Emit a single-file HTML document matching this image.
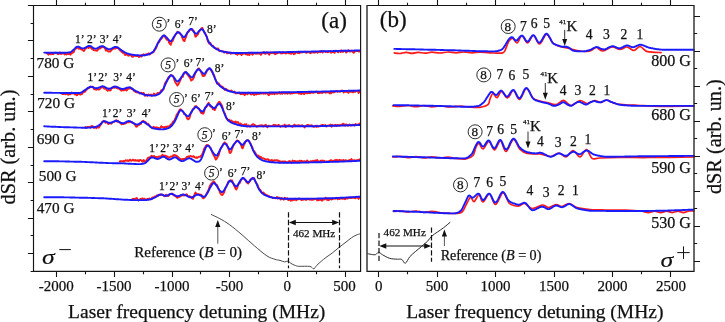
<!DOCTYPE html>
<html><head><meta charset="utf-8"><title>dSR spectra</title>
<style>
html,body{margin:0;padding:0;background:#fff;}
body{width:725px;height:322px;overflow:hidden;}
svg{display:block;font-family:"Liberation Serif","Times New Roman",serif;}
text{stroke:#111;stroke-width:0.25px;}
</style></head><body>
<svg width="725" height="322" viewBox="0 0 725 322">
<rect width="725" height="322" fill="#fff"/>
<g fill="none" stroke="#ff1a1a" stroke-width="1.85" stroke-linejoin="round" stroke-linecap="round">
<path d="M46.6,53.3 L47.2,53.2 L47.8,54.0 L48.4,54.7 L49.0,53.8 L49.6,53.6 L50.2,54.2 L50.8,54.3 L51.4,54.0 L52.0,53.5 L52.6,54.0 L53.2,54.2 L53.8,53.2 L54.4,53.3 L55.0,52.6 L55.6,52.7 L56.2,52.7 L56.8,53.4 L57.4,53.3 L58.0,54.1 L58.6,54.2 L59.2,53.6 L59.8,52.4 L60.4,53.4 L61.0,54.0 L61.6,53.9 L62.2,53.1 L62.8,53.4 L63.4,53.3 L64.0,53.6 L64.6,54.5 L65.2,53.7 L65.8,54.1 L66.4,54.5 L67.0,53.9 L67.6,54.0 L68.2,54.2 L68.8,54.1 L69.4,53.6 L70.0,54.4 L70.6,54.7 L71.2,53.0 L71.8,53.4 L72.4,52.5 L73.0,51.8 L73.6,52.4 L74.2,51.0 L74.8,49.1 L75.4,48.9 L76.0,48.6 L76.6,47.9 L77.2,47.9 L77.8,47.7 L78.4,48.3 L79.0,48.9 L79.6,48.2 L80.2,48.7 L80.8,49.0 L81.4,49.6 L82.0,49.4 L82.6,49.9 L83.2,50.5 L83.8,51.0 L84.4,50.6 L85.0,48.8 L85.6,48.4 L86.2,48.4 L86.8,46.9 L87.4,47.1 L88.0,47.4 L88.6,48.0 L89.2,47.6 L89.8,46.9 L90.4,46.9 L91.0,47.6 L91.6,48.8 L92.2,48.4 L92.8,49.0 L93.4,49.9 L94.0,50.3 L94.6,50.4 L95.2,50.2 L95.8,50.6 L96.4,50.5 L97.0,50.9 L97.6,50.3 L98.2,49.3 L98.8,49.0 L99.4,48.3 L100.0,48.5 L100.6,47.9 L101.2,47.6 L101.8,46.7 L102.4,47.2 L103.0,46.3 L103.6,46.3 L104.2,47.5 L104.8,48.0 L105.4,49.3 L106.0,50.7 L106.6,49.7 L107.2,50.0 L107.8,51.0 L108.4,51.5 L109.0,51.3 L109.6,51.3 L110.2,51.6 L110.8,51.1 L111.4,49.8 L112.0,49.7 L112.6,49.3 L113.2,48.5 L113.8,48.6 L114.4,48.1 L115.0,48.7 L115.6,48.4 L116.2,48.1 L116.8,47.8 L117.4,48.0 L118.0,47.5 L118.6,48.4 L119.2,49.6 L119.8,49.3 L120.4,50.8 L121.0,50.5 L121.6,51.9 L122.2,51.9 L122.8,52.9 L123.4,52.9 L124.0,52.6 L124.6,54.4 L125.2,55.1 L125.8,54.5 L126.4,54.5 L127.0,54.7 L127.6,54.7 L128.2,55.7 L128.8,55.2 L129.4,55.3 L130.0,55.0 L130.6,55.1 L131.2,55.2 L131.8,56.5 L132.4,56.3 L133.0,56.7 L133.6,56.2 L134.2,55.8 L134.8,55.9 L135.4,55.9 L136.0,56.2 L136.6,56.1 L137.2,56.0 L137.8,55.5 L138.4,56.0 L139.0,57.1 L139.6,55.9 L140.2,55.5 L140.8,56.3 L141.4,56.6 L142.0,55.1 L142.6,55.3 L143.2,54.8 L143.8,54.3 L144.4,55.3 L145.0,55.0 L145.6,54.7 L146.2,54.2 L146.8,54.6 L147.4,54.1 L148.0,54.0 L148.6,53.3 L149.2,53.4 L149.8,54.5 L150.4,53.6 L151.0,53.5 L151.6,53.1 L152.2,52.5 L152.8,52.2 L153.4,52.4 L154.0,51.3 L154.6,50.3 L155.2,49.3 L155.8,48.7 L156.4,47.3 L157.0,45.6 L157.6,43.6 L158.2,42.3 L158.8,42.5 L159.4,41.7 L160.0,40.2 L160.6,39.5 L161.2,39.0 L161.8,38.3 L162.4,37.3 L163.0,36.2 L163.6,36.4 L164.2,35.3 L164.8,36.6 L165.4,37.4 L166.0,38.4 L166.6,39.7 L167.2,39.9 L167.8,39.3 L168.4,40.3 L169.0,42.7 L169.6,43.1 L170.2,44.3 L170.8,44.8 L171.4,42.7 L172.0,41.3 L172.6,41.1 L173.2,39.6 L173.8,37.9 L174.4,36.8 L175.0,35.4 L175.6,34.1 L176.2,33.8 L176.8,32.6 L177.4,31.7 L178.0,32.5 L178.6,32.6 L179.2,33.0 L179.8,33.1 L180.4,33.9 L181.0,34.5 L181.6,35.9 L182.2,37.8 L182.8,38.8 L183.4,40.3 L184.0,41.0 L184.6,41.1 L185.2,38.5 L185.8,37.7 L186.4,35.7 L187.0,33.9 L187.6,32.2 L188.2,31.9 L188.8,31.7 L189.4,30.5 L190.0,29.7 L190.6,29.2 L191.2,29.7 L191.8,29.4 L192.4,29.1 L193.0,30.6 L193.6,30.8 L194.2,31.4 L194.8,34.4 L195.4,36.7 L196.0,36.6 L196.6,35.5 L197.2,34.9 L197.8,34.6 L198.4,32.9 L199.0,31.8 L199.6,30.8 L200.2,29.9 L200.8,29.4 L201.4,28.5 L202.0,27.9 L202.6,28.2 L203.2,30.1 L203.8,31.3 L204.4,32.9 L205.0,32.9 L205.6,34.4 L206.2,35.6 L206.8,36.5 L207.4,39.8 L208.0,41.7 L208.6,42.3 L209.2,43.6 L209.8,43.8 L210.4,42.9 L211.0,44.7 L211.6,45.4 L212.2,45.7 L212.8,45.6 L213.4,46.4 L214.0,47.1 L214.6,48.2 L215.2,48.1 L215.8,48.4 L216.4,49.3 L217.0,48.6 L217.6,48.5 L218.2,48.5 L218.8,50.6 L219.4,51.0 L220.0,51.1 L220.6,51.1 L221.2,51.0 L221.8,51.2 L222.4,51.1 L223.0,51.3 L223.6,51.8 L224.2,52.7 L224.8,52.4 L225.4,52.0 L226.0,51.7 L226.6,52.1 L227.2,53.5 L227.8,53.2 L228.4,52.9 L229.0,52.6 L229.6,52.4 L230.2,53.2 L230.8,53.8 L231.4,53.3 L232.0,53.3 L232.6,53.4 L233.2,53.4 L233.8,52.7 L234.4,53.2 L235.0,53.3 L235.6,54.0 L236.2,53.5 L236.8,54.2 L237.4,54.8 L238.0,53.8 L238.6,53.5 L239.2,53.9 L239.8,53.8 L240.4,53.3 L241.0,54.3 L241.6,55.1 L242.2,54.0 L242.8,53.5 L243.4,53.2 L244.0,53.7 L244.6,52.9 L245.2,53.1 L245.8,54.3 L246.4,53.6 L247.0,54.5 L247.6,54.9 L248.2,54.2 L248.8,54.4 L249.4,55.0 L250.0,53.8 L250.6,53.1 L251.2,52.8 L251.8,53.7 L252.4,54.7 L253.0,54.3 L253.6,53.1 L254.2,52.9 L254.8,53.2 L255.4,53.7 L256.0,53.5 L256.6,53.7 L257.2,53.7 L257.8,53.4 L258.4,53.5 L259.0,53.6 L259.6,53.6 L260.2,54.1 L260.8,54.8 L261.4,54.1 L262.0,53.3 L262.6,52.5 L263.2,53.1 L263.8,52.1 L264.4,52.4 L265.0,53.8 L265.6,53.9 L266.2,53.1 L266.8,52.3 L267.4,52.8 L268.0,53.0 L268.6,54.0 L269.2,54.8 L269.8,53.7 L270.4,52.7 L271.0,52.5 L271.6,53.0 L272.2,53.0 L272.8,52.5 L273.4,53.0 L274.0,52.7 L274.6,53.9 L275.2,54.2 L275.8,54.0 L276.4,53.1 L277.0,53.4 L277.6,53.1 L278.2,52.8 L278.8,52.7 L279.4,52.1 L280.0,52.2 L280.6,53.3 L281.2,53.1 L281.8,53.3 L282.4,53.4 L283.0,52.0 L283.6,52.3 L284.2,53.1 L284.8,53.2 L285.4,53.0 L286.0,53.6 L286.6,53.1 L287.2,52.1 L287.8,52.3 L288.4,53.4 L289.0,53.1 L289.6,52.0 L290.2,53.5 L290.8,53.7 L291.4,53.7 L292.0,52.8 L292.6,52.5 L293.2,52.5 L293.8,54.2 L294.4,53.3 L295.0,53.7 L295.6,52.7 L296.2,52.5 L296.8,51.7 L297.4,52.4 L298.0,53.1 L298.6,52.3 L299.2,53.2 L299.8,52.9 L300.4,52.0 L301.0,52.1 L301.6,52.3 L302.2,52.5 L302.8,52.2 L303.4,52.0 L304.0,52.1 L304.6,51.7 L305.2,51.6 L305.8,52.5 L306.4,52.9 L307.0,51.7 L307.6,52.2 L308.2,52.0 L308.8,51.9 L309.4,52.8 L310.0,52.5 L310.6,53.2 L311.2,52.3 L311.8,52.5 L312.4,52.2 L313.0,52.0 L313.6,52.6 L314.2,52.5 L314.8,52.7 L315.4,52.3 L316.0,51.7 L316.6,52.1 L317.2,52.5 L317.8,52.8 L318.4,51.9 L319.0,51.9 L319.6,51.3 L320.2,52.2 L320.8,51.4 L321.4,51.0 L322.0,52.1 L322.6,52.6 L323.2,51.3 L323.8,51.2 L324.4,51.4 L325.0,51.4 L325.6,52.1 L326.2,51.6 L326.8,51.6 L327.4,52.2 L328.0,51.8 L328.6,52.1 L329.2,51.3 L329.8,50.9 L330.4,51.0 L331.0,52.8 L331.6,52.1 L332.2,52.1 L332.8,52.0 L333.4,52.1 L334.0,52.3 L334.6,52.9 L335.2,51.3 L335.8,50.6 L336.4,50.8 L337.0,51.0 L337.6,52.2 L338.2,52.3 L338.8,51.1 L339.4,50.8 L340.0,51.6 L340.6,52.1 L341.2,50.3 L341.8,51.5 L342.4,51.3 L343.0,52.0 L343.6,51.2 L344.2,51.1 L344.8,50.6 L345.4,51.0 L346.0,52.5 L346.6,52.3 L347.2,51.4 L347.8,50.7 L348.4,50.2 L349.0,51.0 L349.6,51.5 L350.2,51.5 L350.8,51.3 L351.4,50.8 L352.0,51.3 L352.6,51.7 L353.2,52.5 L353.8,52.8 L354.4,51.5 L355.0,50.9 L355.6,51.2 L356.2,50.9 L356.8,50.8 L357.4,51.1 L358.0,50.8 L358.6,51.5 L359.2,51.4 L359.8,51.5"/>
<path d="M62.2,94.1 L62.8,94.1 L63.4,94.0 L64.0,93.5 L64.6,93.7 L65.2,94.3 L65.8,94.2 L66.4,93.9 L67.0,93.1 L67.6,94.2 L68.2,94.8 L68.8,94.7 L69.4,94.0 L70.0,93.2 L70.6,94.2 L71.2,93.6 L71.8,92.5 L72.4,93.5 L73.0,92.9 L73.6,92.9 L74.2,93.6 L74.8,94.5 L75.4,94.0 L76.0,94.4 L76.6,95.3 L77.2,95.2 L77.8,94.3 L78.4,93.9 L79.0,93.5 L79.6,93.9 L80.2,94.7 L80.8,94.6 L81.4,94.2 L82.0,94.0 L82.6,92.7 L83.2,92.4 L83.8,92.3 L84.4,91.9 L85.0,91.6 L85.6,90.9 L86.2,90.0 L86.8,89.6 L87.4,88.4 L88.0,87.7 L88.6,88.4 L89.2,88.0 L89.8,87.6 L90.4,86.5 L91.0,87.0 L91.6,87.1 L92.2,86.9 L92.8,86.6 L93.4,87.9 L94.0,89.2 L94.6,89.3 L95.2,89.1 L95.8,89.7 L96.4,89.8 L97.0,88.2 L97.6,89.1 L98.2,89.6 L98.8,89.4 L99.4,89.5 L100.0,88.8 L100.6,88.0 L101.2,87.6 L101.8,87.5 L102.4,86.8 L103.0,87.1 L103.6,88.0 L104.2,88.7 L104.8,88.0 L105.4,88.2 L106.0,89.0 L106.6,90.0 L107.2,90.1 L107.8,90.8 L108.4,90.0 L109.0,90.2 L109.6,90.3 L110.2,90.6 L110.8,90.1 L111.4,88.3 L112.0,87.9 L112.6,88.1 L113.2,87.3 L113.8,86.7 L114.4,87.7 L115.0,87.7 L115.6,87.6 L116.2,87.4 L116.8,88.1 L117.4,88.1 L118.0,88.7 L118.6,88.1 L119.2,88.4 L119.8,89.3 L120.4,89.6 L121.0,90.5 L121.6,90.5 L122.2,90.0 L122.8,90.3 L123.4,90.2 L124.0,90.4 L124.6,89.5 L125.2,89.2 L125.8,90.0 L126.4,90.5 L127.0,90.0 L127.6,88.7 L128.2,88.5 L128.8,88.9 L129.4,88.0 L130.0,87.5 L130.6,88.4 L131.2,88.9 L131.8,88.6 L132.4,88.5 L133.0,89.3 L133.6,90.7 L134.2,90.7 L134.8,91.2 L135.4,91.9 L136.0,92.4 L136.6,92.2 L137.2,92.5 L137.8,92.1 L138.4,92.3 L139.0,92.4 L139.6,93.5 L140.2,93.1 L140.8,92.7 L141.4,92.9 L142.0,93.3 L142.6,93.7 L143.2,92.9 L143.8,93.2 L144.4,94.2 L145.0,95.9 L145.6,95.4 L146.2,94.7 L146.8,95.3 L147.4,95.8 L148.0,94.6 L148.6,94.4 L149.2,95.1 L149.8,95.0 L150.4,94.8 L151.0,94.5 L151.6,95.7 L152.2,95.7 L152.8,95.1 L153.4,94.6 L154.0,93.5 L154.6,94.5 L155.2,94.5 L155.8,94.6 L156.4,94.6 L157.0,93.7 L157.6,92.9 L158.2,93.5 L158.8,93.0 L159.4,92.9 L160.0,92.4 L160.6,91.6 L161.2,90.2 L161.8,90.9 L162.4,90.2 L163.0,89.9 L163.6,89.2 L164.2,86.6 L164.8,83.9 L165.4,82.7 L166.0,81.6 L166.6,81.0 L167.2,80.0 L167.8,78.2 L168.4,78.0 L169.0,76.7 L169.6,76.5 L170.2,75.7 L170.8,75.1 L171.4,75.3 L172.0,75.5 L172.6,75.9 L173.2,76.2 L173.8,78.0 L174.4,80.1 L175.0,81.6 L175.6,82.8 L176.2,83.7 L176.8,84.3 L177.4,85.6 L178.0,84.8 L178.6,83.8 L179.2,82.6 L179.8,81.5 L180.4,80.0 L181.0,78.7 L181.6,77.2 L182.2,76.8 L182.8,76.9 L183.4,74.8 L184.0,73.4 L184.6,73.0 L185.2,72.6 L185.8,71.8 L186.4,72.7 L187.0,74.0 L187.6,74.6 L188.2,75.4 L188.8,76.6 L189.4,76.7 L190.0,78.0 L190.6,79.1 L191.2,80.6 L191.8,79.7 L192.4,79.8 L193.0,79.1 L193.6,78.1 L194.2,76.4 L194.8,74.8 L195.4,72.6 L196.0,72.4 L196.6,71.0 L197.2,70.0 L197.8,69.8 L198.4,68.7 L199.0,68.4 L199.6,69.6 L200.2,70.1 L200.8,71.4 L201.4,72.9 L202.0,74.2 L202.6,75.9 L203.2,76.0 L203.8,75.8 L204.4,75.9 L205.0,74.9 L205.6,73.5 L206.2,72.7 L206.8,70.9 L207.4,69.6 L208.0,69.8 L208.6,69.0 L209.2,68.6 L209.8,68.6 L210.4,69.3 L211.0,70.0 L211.6,71.5 L212.2,72.1 L212.8,73.2 L213.4,74.5 L214.0,75.0 L214.6,76.9 L215.2,78.7 L215.8,80.5 L216.4,81.5 L217.0,83.7 L217.6,83.8 L218.2,83.3 L218.8,83.5 L219.4,84.7 L220.0,85.3 L220.6,85.6 L221.2,86.3 L221.8,86.5 L222.4,87.3 L223.0,87.2 L223.6,87.9 L224.2,89.2 L224.8,90.1 L225.4,88.8 L226.0,89.0 L226.6,89.5 L227.2,90.5 L227.8,90.1 L228.4,90.6 L229.0,91.1 L229.6,90.8 L230.2,90.9 L230.8,91.1 L231.4,90.5 L232.0,90.9 L232.6,91.8 L233.2,92.4 L233.8,92.2 L234.4,91.5 L235.0,92.4 L235.6,93.4 L236.2,93.4 L236.8,93.0 L237.4,92.8 L238.0,93.4 L238.6,92.9 L239.2,92.5 L239.8,93.0 L240.4,94.2 L241.0,94.0 L241.6,94.1 L242.2,93.6 L242.8,94.0 L243.4,93.4 L244.0,93.8 L244.6,95.2 L245.2,94.4 L245.8,93.5 L246.4,93.6 L247.0,94.0 L247.6,94.3 L248.2,93.3 L248.8,92.6 L249.4,93.3 L250.0,93.7 L250.6,93.9 L251.2,94.5 L251.8,94.1 L252.4,94.0 L253.0,93.3 L253.6,94.3 L254.2,95.1 L254.8,94.4 L255.4,93.9 L256.0,94.0 L256.6,94.5 L257.2,93.3 L257.8,93.5 L258.4,93.9 L259.0,94.0 L259.6,93.5 L260.2,93.6 L260.8,93.5 L261.4,93.6 L262.0,93.3 L262.6,92.9 L263.2,93.5 L263.8,93.9 L264.4,93.1 L265.0,93.3 L265.6,93.7 L266.2,93.0 L266.8,93.3 L267.4,93.1 L268.0,94.3 L268.6,95.2 L269.2,94.9 L269.8,93.7 L270.4,93.8 L271.0,93.6 L271.6,93.7 L272.2,94.1 L272.8,93.0 L273.4,93.8 L274.0,93.7 L274.6,94.2 L275.2,93.6 L275.8,93.0 L276.4,93.5 L277.0,93.8 L277.6,93.5 L278.2,93.5 L278.8,92.8 L279.4,92.1 L280.0,93.6 L280.6,93.8 L281.2,93.4 L281.8,93.4 L282.4,93.8 L283.0,93.0 L283.6,92.7 L284.2,93.1 L284.8,93.6 L285.4,92.7 L286.0,93.5 L286.6,92.8 L287.2,92.6 L287.8,93.7 L288.4,93.0 L289.0,92.3 L289.6,92.8 L290.2,93.7 L290.8,93.8 L291.4,93.0 L292.0,93.3 L292.6,93.4 L293.2,92.8 L293.8,93.1 L294.4,93.0 L295.0,92.6 L295.6,92.6 L296.2,92.9 L296.8,92.9 L297.4,92.6 L298.0,92.8 L298.6,93.5 L299.2,93.3 L299.8,93.6 L300.4,93.8 L301.0,93.7 L301.6,94.1 L302.2,92.8 L302.8,93.2 L303.4,93.0 L304.0,94.1 L304.6,93.8 L305.2,91.8 L305.8,92.1 L306.4,93.1 L307.0,93.4 L307.6,93.3 L308.2,92.9 L308.8,93.1 L309.4,93.2 L310.0,92.9 L310.6,93.0 L311.2,91.6 L311.8,92.6 L312.4,92.3 L313.0,93.0 L313.6,92.5 L314.2,92.1 L314.8,92.6 L315.4,92.0 L316.0,91.7 L316.6,91.5 L317.2,92.4 L317.8,93.0 L318.4,93.2 L319.0,92.7 L319.6,93.1 L320.2,92.6 L320.8,92.5 L321.4,92.9 L322.0,93.1 L322.6,92.4 L323.2,92.2 L323.8,92.3 L324.4,92.3 L325.0,92.0 L325.6,92.8 L326.2,92.3 L326.8,92.4 L327.4,92.0 L328.0,92.4 L328.6,92.5 L329.2,92.4 L329.8,93.4 L330.4,93.0 L331.0,93.4 L331.6,92.9 L332.2,91.9 L332.8,91.9 L333.4,92.4 L334.0,92.3 L334.6,92.1 L335.2,91.7 L335.8,91.0 L336.4,91.4 L337.0,90.8 L337.6,91.8 L338.2,91.6 L338.8,91.5 L339.4,91.8 L340.0,91.9 L340.6,90.9 L341.2,90.6 L341.8,90.8 L342.4,90.5 L343.0,91.3 L343.6,92.5 L344.2,91.6 L344.8,91.9 L345.4,91.2 L346.0,91.7 L346.6,91.7 L347.2,91.8 L347.8,92.3 L348.4,92.9 L349.0,92.1 L349.6,91.7 L350.2,91.2 L350.8,91.8 L351.4,91.7 L352.0,92.1 L352.6,92.0 L353.2,92.3 L353.8,90.7 L354.4,91.2 L355.0,92.0 L355.6,91.3 L356.2,91.0 L356.8,91.0 L357.4,90.7 L358.0,91.7 L358.6,93.0 L359.2,92.3 L359.8,90.8"/>
<path d="M85.0,127.5 L85.6,127.0 L86.2,127.9 L86.8,127.4 L87.4,126.9 L88.0,126.9 L88.6,126.9 L89.2,127.2 L89.8,127.1 L90.4,127.7 L91.0,126.7 L91.6,125.9 L92.2,126.3 L92.8,126.1 L93.4,127.2 L94.0,128.0 L94.6,127.7 L95.2,126.7 L95.8,127.1 L96.4,128.2 L97.0,127.5 L97.6,127.0 L98.2,127.4 L98.8,127.7 L99.4,126.8 L100.0,125.7 L100.6,125.0 L101.2,124.2 L101.8,122.7 L102.4,121.7 L103.0,121.5 L103.6,120.8 L104.2,121.1 L104.8,121.8 L105.4,122.8 L106.0,121.8 L106.6,122.1 L107.2,122.6 L107.8,123.5 L108.4,124.1 L109.0,123.7 L109.6,123.4 L110.2,123.0 L110.8,123.2 L111.4,123.7 L112.0,123.1 L112.6,122.1 L113.2,121.9 L113.8,121.9 L114.4,121.8 L115.0,121.1 L115.6,120.8 L116.2,120.1 L116.8,120.7 L117.4,121.9 L118.0,120.8 L118.6,121.6 L119.2,122.4 L119.8,122.6 L120.4,122.9 L121.0,123.7 L121.6,124.2 L122.2,124.2 L122.8,123.6 L123.4,124.1 L124.0,123.8 L124.6,123.5 L125.2,123.5 L125.8,123.2 L126.4,122.8 L127.0,121.9 L127.6,122.2 L128.2,122.2 L128.8,122.2 L129.4,122.2 L130.0,121.6 L130.6,121.8 L131.2,122.3 L131.8,121.9 L132.4,122.8 L133.0,123.1 L133.6,123.5 L134.2,123.5 L134.8,124.4 L135.4,125.6 L136.0,126.5 L136.6,126.7 L137.2,126.2 L137.8,125.7 L138.4,125.1 L139.0,125.0 L139.6,124.2 L140.2,124.1 L140.8,124.1 L141.4,122.6 L142.0,121.3 L142.6,121.1 L143.2,120.8 L143.8,121.1 L144.4,122.5 L145.0,122.3 L145.6,121.9 L146.2,123.3 L146.8,124.1 L147.4,123.7 L148.0,123.7 L148.6,124.3 L149.2,125.1 L149.8,126.0 L150.4,126.8 L151.0,127.4 L151.6,127.9 L152.2,128.2 L152.8,127.7 L153.4,126.7 L154.0,127.2 L154.6,127.5 L155.2,127.4 L155.8,127.9 L156.4,127.3 L157.0,127.2 L157.6,128.3 L158.2,128.2 L158.8,127.9 L159.4,128.3 L160.0,128.3 L160.6,127.6 L161.2,126.2 L161.8,126.8 L162.4,127.1 L163.0,127.0 L163.6,127.6 L164.2,128.0 L164.8,127.0 L165.4,126.8 L166.0,128.0 L166.6,126.9 L167.2,126.3 L167.8,126.9 L168.4,126.9 L169.0,126.2 L169.6,126.3 L170.2,125.2 L170.8,124.4 L171.4,124.4 L172.0,123.8 L172.6,122.3 L173.2,121.6 L173.8,121.0 L174.4,121.1 L175.0,118.8 L175.6,118.0 L176.2,116.1 L176.8,114.4 L177.4,113.8 L178.0,112.8 L178.6,111.7 L179.2,110.6 L179.8,109.6 L180.4,109.2 L181.0,109.6 L181.6,110.2 L182.2,111.0 L182.8,111.3 L183.4,112.5 L184.0,113.9 L184.6,114.3 L185.2,114.3 L185.8,115.3 L186.4,116.5 L187.0,118.6 L187.6,118.5 L188.2,119.4 L188.8,118.8 L189.4,118.1 L190.0,116.3 L190.6,114.3 L191.2,112.7 L191.8,111.4 L192.4,110.2 L193.0,109.0 L193.6,108.6 L194.2,108.4 L194.8,106.4 L195.4,106.4 L196.0,106.0 L196.6,106.6 L197.2,107.5 L197.8,107.8 L198.4,108.5 L199.0,108.4 L199.6,110.1 L200.2,110.9 L200.8,112.5 L201.4,113.1 L202.0,112.6 L202.6,113.5 L203.2,113.7 L203.8,112.8 L204.4,110.5 L205.0,108.4 L205.6,106.8 L206.2,107.2 L206.8,106.5 L207.4,104.7 L208.0,103.5 L208.6,102.8 L209.2,104.4 L209.8,106.0 L210.4,106.1 L211.0,106.8 L211.6,107.1 L212.2,107.5 L212.8,109.1 L213.4,109.0 L214.0,109.7 L214.6,110.1 L215.2,109.5 L215.8,108.0 L216.4,106.3 L217.0,104.8 L217.6,103.6 L218.2,103.2 L218.8,102.2 L219.4,101.7 L220.0,102.3 L220.6,103.6 L221.2,104.2 L221.8,105.4 L222.4,106.8 L223.0,109.2 L223.6,111.3 L224.2,113.0 L224.8,113.2 L225.4,115.1 L226.0,117.4 L226.6,118.2 L227.2,119.1 L227.8,120.4 L228.4,120.0 L229.0,119.7 L229.6,120.0 L230.2,121.0 L230.8,121.2 L231.4,120.5 L232.0,120.9 L232.6,121.9 L233.2,122.1 L233.8,121.7 L234.4,122.3 L235.0,122.3 L235.6,121.4 L236.2,122.2 L236.8,122.9 L237.4,122.5 L238.0,122.0 L238.6,123.1 L239.2,124.2 L239.8,124.5 L240.4,123.4 L241.0,125.1 L241.6,124.2 L242.2,124.9 L242.8,125.4 L243.4,125.3 L244.0,124.8 L244.6,124.3 L245.2,125.0 L245.8,124.5 L246.4,124.1 L247.0,126.5 L247.6,126.3 L248.2,126.3 L248.8,125.3 L249.4,126.3 L250.0,126.7 L250.6,126.5 L251.2,125.5 L251.8,124.8 L252.4,125.0 L253.0,124.1 L253.6,124.4 L254.2,125.2 L254.8,125.0 L255.4,125.4 L256.0,125.8 L256.6,126.8 L257.2,126.6 L257.8,126.0 L258.4,126.3 L259.0,125.5 L259.6,125.6 L260.2,126.1 L260.8,125.2 L261.4,125.3 L262.0,125.1 L262.6,125.9 L263.2,126.6 L263.8,125.6 L264.4,125.7 L265.0,125.2 L265.6,124.9 L266.2,125.2 L266.8,126.7 L267.4,127.3 L268.0,126.3 L268.6,125.6 L269.2,126.0 L269.8,125.8 L270.4,126.2 L271.0,126.1 L271.6,126.1 L272.2,126.1 L272.8,125.5 L273.4,125.3 L274.0,124.8 L274.6,125.1 L275.2,125.0 L275.8,125.4 L276.4,125.3 L277.0,125.8 L277.6,125.8 L278.2,125.0 L278.8,125.0 L279.4,125.3 L280.0,126.3 L280.6,126.9 L281.2,126.4 L281.8,125.9 L282.4,126.3 L283.0,125.4 L283.6,126.3 L284.2,125.3 L284.8,124.6 L285.4,127.0 L286.0,126.8 L286.6,125.5 L287.2,125.7 L287.8,125.7 L288.4,125.6 L289.0,124.9 L289.6,125.3 L290.2,125.9 L290.8,126.1 L291.4,126.4 L292.0,126.3 L292.6,126.9 L293.2,125.7 L293.8,125.5 L294.4,124.6 L295.0,125.0 L295.6,126.2 L296.2,125.5 L296.8,125.9 L297.4,125.6 L298.0,125.1 L298.6,125.4 L299.2,125.4 L299.8,125.5 L300.4,126.2 L301.0,126.1 L301.6,125.4 L302.2,125.2 L302.8,125.8 L303.4,125.9 L304.0,126.6 L304.6,127.4 L305.2,126.5 L305.8,125.8 L306.4,125.5 L307.0,125.1 L307.6,125.0 L308.2,125.0 L308.8,125.3 L309.4,125.5 L310.0,126.0 L310.6,125.5 L311.2,125.4 L311.8,125.2 L312.4,126.4 L313.0,126.4 L313.6,126.8 L314.2,126.5 L314.8,126.5 L315.4,125.8 L316.0,126.3 L316.6,127.0 L317.2,125.5 L317.8,126.3 L318.4,126.7 L319.0,126.1 L319.6,126.2 L320.2,126.2 L320.8,125.4 L321.4,125.5 L322.0,125.0 L322.6,124.9 L323.2,125.0 L323.8,125.3 L324.4,125.6 L325.0,125.5 L325.6,125.0 L326.2,126.5 L326.8,126.4 L327.4,125.9 L328.0,125.3 L328.6,125.3 L329.2,125.7 L329.8,125.4 L330.4,124.6 L331.0,125.9 L331.6,126.7 L332.2,124.8 L332.8,125.6 L333.4,125.6 L334.0,125.4 L334.6,125.8 L335.2,124.8 L335.8,125.3 L336.4,126.0 L337.0,125.2 L337.6,124.9 L338.2,125.1 L338.8,125.1 L339.4,125.8 L340.0,124.9 L340.6,125.3 L341.2,124.6 L341.8,125.2 L342.4,124.7 L343.0,123.6 L343.6,124.5 L344.2,124.3 L344.8,124.8 L345.4,125.6 L346.0,124.4 L346.6,124.4 L347.2,125.5 L347.8,125.3 L348.4,125.7 L349.0,125.1 L349.6,124.4 L350.2,124.8 L350.8,125.6 L351.4,125.4 L352.0,124.9 L352.6,124.7 L353.2,124.6 L353.8,124.6 L354.4,125.6 L355.0,124.8 L355.6,124.0 L356.2,124.3 L356.8,125.0 L357.4,125.0 L358.0,124.5 L358.6,124.2 L359.2,124.2 L359.8,123.4"/>
<path d="M119.8,161.4 L120.4,161.2 L121.0,161.4 L121.6,161.1 L122.2,161.5 L122.8,161.5 L123.4,161.0 L124.0,161.5 L124.6,161.0 L125.2,160.7 L125.8,160.2 L126.4,160.6 L127.0,160.9 L127.6,160.2 L128.2,160.9 L128.8,161.0 L129.4,160.6 L130.0,159.6 L130.6,160.4 L131.2,160.9 L131.8,160.4 L132.4,160.3 L133.0,159.6 L133.6,160.6 L134.2,160.5 L134.8,160.7 L135.4,159.9 L136.0,160.7 L136.6,160.6 L137.2,160.8 L137.8,160.1 L138.4,160.3 L139.0,161.4 L139.6,160.2 L140.2,160.0 L140.8,160.2 L141.4,160.3 L142.0,161.4 L142.6,161.7 L143.2,160.5 L143.8,160.0 L144.4,161.3 L145.0,161.5 L145.6,161.3 L146.2,160.8 L146.8,159.4 L147.4,158.8 L148.0,157.8 L148.6,157.4 L149.2,157.9 L149.8,157.2 L150.4,157.6 L151.0,156.4 L151.6,155.7 L152.2,156.4 L152.8,157.0 L153.4,156.4 L154.0,155.8 L154.6,156.7 L155.2,157.4 L155.8,156.8 L156.4,156.9 L157.0,157.7 L157.6,157.4 L158.2,156.7 L158.8,156.7 L159.4,156.4 L160.0,156.5 L160.6,156.3 L161.2,156.4 L161.8,155.7 L162.4,154.6 L163.0,155.2 L163.6,155.6 L164.2,155.6 L164.8,155.9 L165.4,155.6 L166.0,155.8 L166.6,156.9 L167.2,156.5 L167.8,156.5 L168.4,157.9 L169.0,157.6 L169.6,157.4 L170.2,156.8 L170.8,156.5 L171.4,156.4 L172.0,156.5 L172.6,156.3 L173.2,155.1 L173.8,155.8 L174.4,155.0 L175.0,155.0 L175.6,155.9 L176.2,155.7 L176.8,155.7 L177.4,157.2 L178.0,156.9 L178.6,157.6 L179.2,158.4 L179.8,159.2 L180.4,158.9 L181.0,159.5 L181.6,159.2 L182.2,159.7 L182.8,158.9 L183.4,159.0 L184.0,159.7 L184.6,158.8 L185.2,158.5 L185.8,158.9 L186.4,157.8 L187.0,156.8 L187.6,156.9 L188.2,156.3 L188.8,157.0 L189.4,156.9 L190.0,156.0 L190.6,155.9 L191.2,156.4 L191.8,156.5 L192.4,156.4 L193.0,156.8 L193.6,156.1 L194.2,156.8 L194.8,157.3 L195.4,157.6 L196.0,157.8 L196.6,157.3 L197.2,157.9 L197.8,157.6 L198.4,157.1 L199.0,156.7 L199.6,156.8 L200.2,156.9 L200.8,155.9 L201.4,155.6 L202.0,154.7 L202.6,153.5 L203.2,151.9 L203.8,149.7 L204.4,148.1 L205.0,147.5 L205.6,146.3 L206.2,145.7 L206.8,144.9 L207.4,145.1 L208.0,145.2 L208.6,145.6 L209.2,146.2 L209.8,147.1 L210.4,147.9 L211.0,149.1 L211.6,150.6 L212.2,151.8 L212.8,153.9 L213.4,154.6 L214.0,156.0 L214.6,156.8 L215.2,158.0 L215.8,159.6 L216.4,159.0 L217.0,158.0 L217.6,157.0 L218.2,155.8 L218.8,154.9 L219.4,152.4 L220.0,150.6 L220.6,148.6 L221.2,147.8 L221.8,147.0 L222.4,146.2 L223.0,144.3 L223.6,143.6 L224.2,142.9 L224.8,142.3 L225.4,143.1 L226.0,143.6 L226.6,143.8 L227.2,145.8 L227.8,147.4 L228.4,148.8 L229.0,150.5 L229.6,152.9 L230.2,153.0 L230.8,152.6 L231.4,151.4 L232.0,149.0 L232.6,147.6 L233.2,145.7 L233.8,144.7 L234.4,143.8 L235.0,143.0 L235.6,142.6 L236.2,141.4 L236.8,140.7 L237.4,140.5 L238.0,140.9 L238.6,141.0 L239.2,141.9 L239.8,142.9 L240.4,143.7 L241.0,145.1 L241.6,146.4 L242.2,148.3 L242.8,148.1 L243.4,146.4 L244.0,144.5 L244.6,143.8 L245.2,142.3 L245.8,141.2 L246.4,140.7 L247.0,140.4 L247.6,140.4 L248.2,140.2 L248.8,141.4 L249.4,141.5 L250.0,143.0 L250.6,143.5 L251.2,145.5 L251.8,146.2 L252.4,147.6 L253.0,149.8 L253.6,151.0 L254.2,151.1 L254.8,152.1 L255.4,152.9 L256.0,154.3 L256.6,155.0 L257.2,155.3 L257.8,155.4 L258.4,155.7 L259.0,156.1 L259.6,157.2 L260.2,157.8 L260.8,156.8 L261.4,157.5 L262.0,158.0 L262.6,158.5 L263.2,158.3 L263.8,158.6 L264.4,158.6 L265.0,159.4 L265.6,159.4 L266.2,159.4 L266.8,159.7 L267.4,159.4 L268.0,159.1 L268.6,160.1 L269.2,160.2 L269.8,160.2 L270.4,160.9 L271.0,160.9 L271.6,160.0 L272.2,160.2 L272.8,161.5 L273.4,161.5 L274.0,160.4 L274.6,160.1 L275.2,160.4 L275.8,160.4 L276.4,160.1 L277.0,160.7 L277.6,160.3 L278.2,160.5 L278.8,161.4 L279.4,161.0 L280.0,161.3 L280.6,161.7 L281.2,161.8 L281.8,161.4 L282.4,161.4 L283.0,161.3 L283.6,162.4 L284.2,162.0 L284.8,161.2 L285.4,161.6 L286.0,162.0 L286.6,162.2 L287.2,162.7 L287.8,162.4 L288.4,161.5 L289.0,161.3 L289.6,161.0 L290.2,161.6 L290.8,162.0 L291.4,162.9 L292.0,161.7 L292.6,160.5 L293.2,161.0 L293.8,161.4 L294.4,160.9 L295.0,160.9 L295.6,161.3 L296.2,161.6 L296.8,161.4 L297.4,161.2 L298.0,161.7 L298.6,161.3 L299.2,161.0 L299.8,160.7 L300.4,161.0 L301.0,161.5 L301.6,160.7 L302.2,161.3 L302.8,161.7 L303.4,161.4 L304.0,161.4 L304.6,161.1 L305.2,162.0 L305.8,162.1 L306.4,161.4 L307.0,160.4 L307.6,160.8 L308.2,161.9 L308.8,162.3 L309.4,161.8 L310.0,161.9 L310.6,161.1 L311.2,161.1 L311.8,161.3 L312.4,161.3 L313.0,160.7 L313.6,161.7 L314.2,161.8 L314.8,160.6 L315.4,160.4 L316.0,161.1 L316.6,160.6 L317.2,160.0 L317.8,161.3 L318.4,161.2 L319.0,161.2 L319.6,162.1 L320.2,161.3 L320.8,160.7 L321.4,160.9 L322.0,160.5 L322.6,160.6 L323.2,161.1 L323.8,160.7 L324.4,160.9 L325.0,161.9 L325.6,161.7 L326.2,161.5 L326.8,161.4 L327.4,161.4 L328.0,161.7 L328.6,161.3 L329.2,161.7 L329.8,160.6 L330.4,160.4 L331.0,160.1 L331.6,160.5 L332.2,161.2 L332.8,161.5 L333.4,160.6 L334.0,160.6 L334.6,160.5 L335.2,160.2 L335.8,160.0 L336.4,160.3 L337.0,159.8 L337.6,160.5 L338.2,160.6 L338.8,160.2 L339.4,159.8 L340.0,160.0 L340.6,161.1 L341.2,160.3 L341.8,161.2 L342.4,160.9 L343.0,160.2 L343.6,160.0 L344.2,161.0 L344.8,161.2 L345.4,160.1 L346.0,160.2 L346.6,160.8 L347.2,160.8 L347.8,161.2 L348.4,160.3 L349.0,160.3 L349.6,159.9 L350.2,161.0 L350.8,159.8 L351.4,159.0 L352.0,159.8 L352.6,160.2 L353.2,161.0 L353.8,160.1 L354.4,160.1 L355.0,160.5 L355.6,160.8 L356.2,160.2 L356.8,160.5 L357.4,160.2 L358.0,159.8 L358.6,159.8 L359.2,159.7 L359.8,159.2"/>
<path d="M131.8,199.9 L132.4,198.9 L133.0,199.6 L133.6,199.0 L134.2,198.7 L134.8,199.1 L135.4,198.9 L136.0,198.3 L136.6,197.9 L137.2,198.6 L137.8,200.1 L138.4,200.5 L139.0,199.9 L139.6,199.8 L140.2,199.0 L140.8,199.0 L141.4,199.1 L142.0,198.4 L142.6,198.4 L143.2,199.0 L143.8,198.9 L144.4,198.6 L145.0,199.3 L145.6,199.3 L146.2,199.8 L146.8,199.3 L147.4,199.0 L148.0,199.1 L148.6,198.8 L149.2,198.5 L149.8,198.7 L150.4,199.3 L151.0,199.3 L151.6,199.0 L152.2,197.4 L152.8,197.4 L153.4,197.3 L154.0,197.2 L154.6,196.7 L155.2,196.4 L155.8,196.7 L156.4,196.0 L157.0,195.2 L157.6,196.1 L158.2,195.7 L158.8,194.8 L159.4,195.0 L160.0,194.5 L160.6,195.1 L161.2,194.6 L161.8,194.3 L162.4,194.6 L163.0,194.8 L163.6,195.6 L164.2,196.2 L164.8,196.3 L165.4,195.8 L166.0,194.6 L166.6,195.9 L167.2,195.3 L167.8,195.9 L168.4,196.1 L169.0,195.2 L169.6,194.4 L170.2,194.1 L170.8,193.9 L171.4,193.6 L172.0,193.5 L172.6,193.8 L173.2,195.1 L173.8,195.2 L174.4,195.8 L175.0,195.8 L175.6,196.3 L176.2,196.8 L176.8,197.5 L177.4,197.8 L178.0,197.4 L178.6,196.5 L179.2,196.3 L179.8,196.9 L180.4,195.6 L181.0,195.2 L181.6,195.7 L182.2,195.4 L182.8,194.8 L183.4,194.5 L184.0,195.7 L184.6,195.1 L185.2,195.0 L185.8,194.7 L186.4,194.2 L187.0,194.6 L187.6,196.0 L188.2,196.6 L188.8,196.5 L189.4,196.2 L190.0,196.4 L190.6,197.0 L191.2,197.0 L191.8,198.1 L192.4,198.5 L193.0,198.8 L193.6,197.1 L194.2,195.3 L194.8,194.0 L195.4,192.4 L196.0,193.3 L196.6,193.8 L197.2,194.2 L197.8,194.1 L198.4,194.1 L199.0,194.2 L199.6,194.8 L200.2,195.2 L200.8,194.5 L201.4,195.0 L202.0,195.6 L202.6,197.7 L203.2,198.4 L203.8,198.1 L204.4,197.1 L205.0,196.9 L205.6,195.9 L206.2,194.7 L206.8,193.3 L207.4,192.3 L208.0,190.9 L208.6,189.8 L209.2,187.9 L209.8,186.1 L210.4,184.9 L211.0,183.9 L211.6,183.7 L212.2,182.6 L212.8,182.2 L213.4,181.6 L214.0,181.4 L214.6,182.8 L215.2,183.0 L215.8,184.5 L216.4,185.2 L217.0,185.0 L217.6,186.4 L218.2,188.2 L218.8,189.5 L219.4,190.7 L220.0,192.7 L220.6,193.6 L221.2,194.6 L221.8,194.9 L222.4,195.1 L223.0,194.1 L223.6,193.3 L224.2,192.2 L224.8,190.3 L225.4,188.3 L226.0,186.8 L226.6,186.1 L227.2,184.9 L227.8,183.1 L228.4,181.6 L229.0,181.4 L229.6,181.6 L230.2,180.3 L230.8,180.5 L231.4,180.8 L232.0,180.3 L232.6,182.1 L233.2,183.1 L233.8,185.2 L234.4,186.2 L235.0,187.4 L235.6,188.9 L236.2,189.5 L236.8,188.7 L237.4,187.5 L238.0,185.4 L238.6,184.2 L239.2,183.5 L239.8,183.0 L240.4,181.3 L241.0,179.9 L241.6,179.3 L242.2,178.6 L242.8,178.6 L243.4,178.5 L244.0,178.4 L244.6,179.2 L245.2,180.0 L245.8,180.8 L246.4,182.1 L247.0,182.7 L247.6,183.1 L248.2,183.6 L248.8,182.6 L249.4,182.2 L250.0,180.7 L250.6,179.2 L251.2,179.5 L251.8,179.0 L252.4,178.1 L253.0,178.5 L253.6,178.7 L254.2,178.3 L254.8,180.3 L255.4,181.4 L256.0,182.4 L256.6,183.7 L257.2,184.2 L257.8,185.6 L258.4,187.1 L259.0,188.5 L259.6,189.6 L260.2,189.7 L260.8,190.7 L261.4,192.3 L262.0,192.8 L262.6,193.1 L263.2,192.4 L263.8,193.0 L264.4,193.6 L265.0,194.2 L265.6,194.4 L266.2,195.3 L266.8,195.2 L267.4,195.4 L268.0,195.7 L268.6,196.2 L269.2,196.1 L269.8,197.0 L270.4,197.0 L271.0,196.9 L271.6,197.1 L272.2,197.5 L272.8,198.0 L273.4,198.1 L274.0,197.9 L274.6,198.1 L275.2,198.0 L275.8,198.4 L276.4,197.7 L277.0,196.9 L277.6,198.5 L278.2,198.2 L278.8,197.5 L279.4,197.9 L280.0,198.2 L280.6,199.6 L281.2,199.0 L281.8,198.0 L282.4,198.8 L283.0,199.0 L283.6,199.8 L284.2,198.4 L284.8,197.7 L285.4,198.8 L286.0,199.0 L286.6,198.7 L287.2,198.2 L287.8,199.6 L288.4,200.2 L289.0,198.9 L289.6,199.9 L290.2,199.8 L290.8,200.9 L291.4,200.2 L292.0,199.7 L292.6,200.3 L293.2,200.0 L293.8,199.4 L294.4,199.8 L295.0,199.2 L295.6,198.8 L296.2,200.4 L296.8,199.6 L297.4,199.2 L298.0,199.5 L298.6,198.5 L299.2,198.5 L299.8,199.0 L300.4,199.2 L301.0,199.7 L301.6,200.1 L302.2,199.5 L302.8,199.8 L303.4,199.8 L304.0,199.0 L304.6,199.4 L305.2,199.2 L305.8,200.0 L306.4,199.9 L307.0,199.4 L307.6,198.7 L308.2,199.2 L308.8,199.1 L309.4,199.7 L310.0,199.4 L310.6,199.1 L311.2,199.9 L311.8,199.9 L312.4,199.3 L313.0,199.9 L313.6,199.4 L314.2,199.2 L314.8,199.3 L315.4,198.9 L316.0,199.0 L316.6,199.4 L317.2,200.4 L317.8,200.4 L318.4,199.6 L319.0,200.2 L319.6,199.6 L320.2,199.6 L320.8,199.9 L321.4,199.9 L322.0,200.7 L322.6,199.6 L323.2,198.8 L323.8,199.7 L324.4,199.1 L325.0,198.6 L325.6,197.6 L326.2,199.4 L326.8,199.9 L327.4,199.9 L328.0,200.0 L328.6,200.2 L329.2,199.4 L329.8,199.5 L330.4,198.7 L331.0,198.9 L331.6,199.6 L332.2,199.2 L332.8,198.3 L333.4,198.9 L334.0,198.7 L334.6,198.5 L335.2,198.9 L335.8,198.4 L336.4,197.7 L337.0,198.2 L337.6,199.4 L338.2,198.2 L338.8,198.7 L339.4,199.1 L340.0,198.9 L340.6,198.0 L341.2,198.3 L341.8,198.7 L342.4,198.9 L343.0,198.1 L343.6,197.9 L344.2,199.0 L344.8,199.2 L345.4,198.7 L346.0,198.1 L346.6,198.5 L347.2,198.5 L347.8,198.6 L348.4,197.6 L349.0,198.0 L349.6,197.9 L350.2,197.5 L350.8,198.0 L351.4,198.0 L352.0,197.8 L352.6,197.9 L353.2,197.2 L353.8,197.7 L354.4,198.1 L355.0,198.2 L355.6,198.3 L356.2,197.0 L356.8,196.7 L357.4,197.6 L358.0,198.2 L358.6,198.9 L359.2,198.0 L359.8,197.0"/>
</g>
<g fill="none" stroke="#ff1a1a" stroke-width="1.7" stroke-linejoin="round" stroke-linecap="round">
<path d="M394.3,52.9 C395.2,53.0 398.1,53.6 400.0,53.5 C401.9,53.4 404.0,52.4 406.0,52.4 C408.0,52.4 410.0,53.4 412.0,53.4 C414.0,53.4 415.8,52.3 418.0,52.3 C420.2,52.3 422.7,53.2 425.0,53.2 C427.3,53.2 429.5,52.2 432.0,52.2 C434.5,52.2 437.3,53.0 440.0,53.0 C442.7,53.0 445.3,52.0 448.0,52.0 C450.7,52.0 453.3,52.8 456.0,52.8 C458.7,52.8 461.3,52.0 464.0,52.0 C466.7,52.0 469.3,52.8 472.0,52.8 C474.7,52.8 477.0,52.2 480.0,52.2 C483.0,52.2 486.2,52.7 490.0,52.8 C493.8,52.9 500.1,53.7 502.8,52.9 C505.5,52.1 505.0,50.0 506.0,48.0 C507.0,46.0 507.8,42.6 509.0,41.0 C510.2,39.4 511.7,38.2 513.0,38.5 C514.3,38.8 515.5,43.4 517.0,43.0 C518.5,42.6 520.2,36.0 522.0,36.0 C523.8,36.0 525.6,43.1 527.5,43.0 C529.4,42.9 531.5,35.3 533.5,35.5 C535.5,35.7 537.3,44.2 539.5,44.0 C541.7,43.8 544.4,34.8 546.5,34.5 C548.6,34.2 550.4,40.2 552.0,42.0 C553.6,43.8 554.7,44.2 556.0,45.0 C557.3,45.8 558.2,46.0 560.0,46.5 C561.8,47.0 564.2,47.3 567.0,48.0 C569.8,48.7 573.7,49.9 577.0,50.5 C580.3,51.1 584.5,51.6 587.0,51.5 C589.5,51.4 590.4,50.7 592.0,50.0 C593.6,49.3 594.6,47.3 596.4,47.5 C598.2,47.7 600.4,51.1 603.0,51.0 C605.6,50.9 609.2,47.2 612.0,47.0 C614.8,46.8 617.5,49.5 620.0,49.5 C622.5,49.5 624.7,46.8 627.0,47.0 C629.3,47.2 631.8,50.6 634.0,50.5 C636.2,50.4 637.9,46.4 640.0,46.5 C642.1,46.6 644.1,50.4 646.6,51.4 C649.1,52.4 652.6,52.1 655.0,52.3 C657.4,52.5 660.0,52.5 661.0,52.6"/>
<path d="M392.8,105.9 C394.0,106.0 397.5,106.6 400.0,106.5 C402.5,106.4 405.3,105.5 408.0,105.5 C410.7,105.5 413.3,106.6 416.0,106.6 C418.7,106.6 421.3,105.6 424.0,105.6 C426.7,105.6 429.3,106.8 432.0,106.8 C434.7,106.8 437.0,105.9 440.0,105.9 C443.0,105.9 446.7,107.0 450.0,107.0 C453.3,107.0 456.7,106.2 460.0,106.2 C463.3,106.2 466.7,107.0 470.0,107.2 C473.3,107.4 477.0,107.7 480.0,107.3 C483.0,106.9 486.2,106.1 487.9,104.7 C489.6,103.3 489.2,100.9 490.0,99.0 C490.8,97.1 491.7,93.7 492.9,93.5 C494.1,93.3 495.6,98.0 497.0,97.7 C498.4,97.4 499.8,91.5 501.5,91.5 C503.2,91.5 505.5,98.2 507.5,98.0 C509.5,97.8 511.5,90.2 513.5,90.5 C515.5,90.8 517.3,99.8 519.5,99.5 C521.7,99.2 524.2,88.8 526.5,88.5 C528.8,88.2 530.8,95.9 533.0,98.0 C535.2,100.1 537.7,100.2 540.0,101.0 C542.3,101.8 544.3,101.9 547.0,102.5 C549.7,103.1 553.2,104.8 556.0,104.5 C558.8,104.2 561.0,100.2 563.5,100.4 C566.0,100.6 568.2,105.5 571.0,105.5 C573.8,105.5 577.3,100.8 580.0,100.5 C582.7,100.2 584.6,103.5 587.0,103.5 C589.4,103.5 592.2,100.7 594.5,100.5 C596.8,100.3 598.9,102.6 601.0,102.5 C603.1,102.4 604.3,99.8 607.0,100.0 C609.7,100.2 611.5,103.1 617.0,104.0 C622.5,104.9 632.8,105.1 640.0,105.5 C647.2,105.9 651.0,106.2 660.0,106.3 C669.0,106.4 688.3,106.0 694.0,106.0"/>
<path d="M392.8,157.0 C394.0,156.9 397.5,156.2 400.0,156.3 C402.5,156.4 405.3,157.6 408.0,157.6 C410.7,157.6 413.3,156.5 416.0,156.5 C418.7,156.5 421.3,157.8 424.0,157.8 C426.7,157.9 429.3,156.8 432.0,156.8 C434.7,156.8 437.3,157.9 440.0,158.0 C442.7,158.1 445.3,157.1 448.0,157.2 C450.7,157.3 453.0,158.1 456.0,158.4 C459.0,158.7 463.2,159.5 466.0,159.0 C468.8,158.5 471.3,157.5 473.0,155.5 C474.7,153.5 475.0,149.0 476.0,147.0 C477.0,145.0 477.8,143.2 479.0,143.5 C480.2,143.8 481.3,149.3 483.0,149.0 C484.7,148.7 487.1,141.3 489.0,141.5 C490.9,141.7 492.6,150.1 494.5,150.0 C496.4,149.9 498.6,140.8 500.5,141.0 C502.4,141.2 503.8,151.8 506.0,151.5 C508.2,151.2 511.2,139.8 513.5,139.5 C515.8,139.2 517.7,147.2 520.0,149.5 C522.3,151.8 524.1,152.8 527.4,153.5 C530.7,154.2 536.1,153.5 540.0,154.0 C543.9,154.5 547.8,156.7 551.0,156.5 C554.2,156.3 556.5,152.9 559.0,153.0 C561.5,153.1 563.7,157.4 566.0,157.0 C568.3,156.6 570.7,150.5 573.0,150.5 C575.3,150.5 577.8,157.2 580.0,157.0 C582.2,156.8 584.5,149.3 586.5,149.5 C588.5,149.7 589.8,157.0 592.0,158.4 C594.2,159.8 595.3,158.2 600.0,158.0 C604.7,157.8 611.7,157.6 620.0,157.5 C628.3,157.4 637.7,157.6 650.0,157.5 C662.3,157.4 686.7,157.1 694.0,157.0"/>
<path d="M393.5,211.5 C394.6,211.4 397.6,210.7 400.0,210.8 C402.4,210.9 405.3,212.0 408.0,212.0 C410.7,212.0 413.3,210.9 416.0,211.0 C418.7,211.1 421.3,212.2 424.0,212.3 C426.7,212.4 429.3,211.4 432.0,211.4 C434.7,211.4 436.3,212.2 440.0,212.6 C443.7,212.9 450.3,213.6 454.0,213.5 C457.7,213.4 460.0,213.4 462.0,212.0 C464.0,210.6 464.6,207.4 466.0,205.0 C467.4,202.6 469.2,197.9 470.5,197.3 C471.8,196.8 472.6,202.1 474.0,201.7 C475.4,201.3 477.5,194.9 479.0,195.0 C480.5,195.1 481.2,202.2 483.0,202.0 C484.8,201.8 487.4,193.6 489.5,194.0 C491.6,194.4 493.2,204.7 495.5,204.5 C497.8,204.3 500.8,193.2 503.0,193.0 C505.2,192.8 507.2,200.9 509.0,203.0 C510.8,205.1 512.3,205.0 514.0,205.5 C515.7,206.0 517.2,206.3 519.0,206.0 C520.8,205.7 522.3,203.1 524.5,203.5 C526.7,203.9 529.0,208.2 532.0,208.5 C535.0,208.8 539.5,205.2 542.3,205.0 C545.0,204.8 546.2,207.6 548.5,207.5 C550.8,207.4 553.8,204.7 556.0,204.5 C558.2,204.3 559.8,206.7 562.0,206.5 C564.2,206.3 566.5,203.3 569.0,203.5 C571.5,203.7 573.5,206.5 577.0,207.5 C580.5,208.5 585.3,209.1 590.0,209.5 C594.7,209.9 599.2,209.9 605.0,210.0 C610.8,210.1 619.2,210.0 625.0,210.2 C630.8,210.4 636.1,210.6 640.0,211.0 C643.9,211.4 645.9,212.6 648.3,212.6 C650.7,212.6 652.4,211.2 654.5,211.2 C656.6,211.2 658.7,212.6 660.7,212.6 C662.7,212.6 664.5,211.2 666.5,211.2 C668.5,211.2 670.5,212.6 672.4,212.6 C674.3,212.6 676.2,211.1 678.0,211.1 C679.8,211.1 681.6,212.6 683.4,212.6 C685.2,212.6 687.2,211.3 689.0,211.0 C690.8,210.7 693.2,210.8 694.0,210.8"/>
</g>
<g fill="none" stroke="#1a1aff" stroke-width="1.9" stroke-linejoin="round" stroke-linecap="round">
<path d="M44.2,52.6 L44.8,52.6 L45.4,52.6 L46.0,52.7 L46.6,52.7 L47.2,52.7 L47.8,52.7 L48.4,52.7 L49.0,52.7 L49.6,52.7 L50.2,52.8 L50.8,52.8 L51.4,52.8 L52.0,52.8 L52.6,52.8 L53.2,52.8 L53.8,52.8 L54.4,52.8 L55.0,52.8 L55.6,52.8 L56.2,52.8 L56.8,52.8 L57.4,52.8 L58.0,52.8 L58.6,52.8 L59.2,52.8 L59.8,52.8 L60.4,52.8 L61.0,52.8 L61.6,52.8 L62.2,52.8 L62.8,52.8 L63.4,52.8 L64.0,52.7 L64.6,52.7 L65.2,52.7 L65.8,52.7 L66.4,52.6 L67.0,52.6 L67.6,52.6 L68.2,52.5 L68.8,52.5 L69.4,52.4 L70.0,52.3 L70.6,52.1 L71.2,51.7 L71.8,51.2 L72.4,50.8 L73.0,50.3 L73.6,49.8 L74.2,49.2 L74.8,48.5 L75.4,47.9 L76.0,47.3 L76.6,46.9 L77.2,46.6 L77.8,46.6 L78.4,46.7 L79.0,46.9 L79.6,47.2 L80.2,47.5 L80.8,47.8 L81.4,48.1 L82.0,48.3 L82.6,48.4 L83.2,48.4 L83.8,48.3 L84.4,48.1 L85.0,47.8 L85.6,47.5 L86.2,47.2 L86.8,46.8 L87.4,46.5 L88.0,46.2 L88.6,46.0 L89.2,46.0 L89.8,46.0 L90.4,46.2 L91.0,46.4 L91.6,46.8 L92.2,47.2 L92.8,47.6 L93.4,48.0 L94.0,48.3 L94.6,48.5 L95.2,48.6 L95.8,48.6 L96.4,48.5 L97.0,48.3 L97.6,48.0 L98.2,47.6 L98.8,47.3 L99.4,47.0 L100.0,46.7 L100.6,46.5 L101.2,46.3 L101.8,46.2 L102.4,46.3 L103.0,46.4 L103.6,46.7 L104.2,46.9 L104.8,47.3 L105.4,47.6 L106.0,48.0 L106.6,48.3 L107.2,48.6 L107.8,48.9 L108.4,49.1 L109.0,49.2 L109.6,49.2 L110.2,49.1 L110.8,48.9 L111.4,48.6 L112.0,48.4 L112.6,48.0 L113.2,47.7 L113.8,47.5 L114.4,47.2 L115.0,47.0 L115.6,47.0 L116.2,47.0 L116.8,47.1 L117.4,47.4 L118.0,47.7 L118.6,48.1 L119.2,48.6 L119.8,49.0 L120.4,49.5 L121.0,49.9 L121.6,50.3 L122.2,50.7 L122.8,51.1 L123.4,51.4 L124.0,51.8 L124.6,52.1 L125.2,52.5 L125.8,52.8 L126.4,53.1 L127.0,53.3 L127.6,53.6 L128.2,53.7 L128.8,53.9 L129.4,54.1 L130.0,54.2 L130.6,54.3 L131.2,54.5 L131.8,54.6 L132.4,54.7 L133.0,54.8 L133.6,54.9 L134.2,55.0 L134.8,55.0 L135.4,55.1 L136.0,55.1 L136.6,55.2 L137.2,55.3 L137.8,55.3 L138.4,55.4 L139.0,55.4 L139.6,55.4 L140.2,55.5 L140.8,55.5 L141.4,55.5 L142.0,55.5 L142.6,55.5 L143.2,55.4 L143.8,55.4 L144.4,55.3 L145.0,55.2 L145.6,55.1 L146.2,54.9 L146.8,54.8 L147.4,54.7 L148.0,54.5 L148.6,54.3 L149.2,54.1 L149.8,53.8 L150.4,53.5 L151.0,53.2 L151.6,52.8 L152.2,52.4 L152.8,51.9 L153.4,51.3 L154.0,50.6 L154.6,49.6 L155.2,48.5 L155.8,47.4 L156.4,46.2 L157.0,45.0 L157.6,43.8 L158.2,42.6 L158.8,41.5 L159.4,40.5 L160.0,39.5 L160.6,38.6 L161.2,37.8 L161.8,37.0 L162.4,36.3 L163.0,35.8 L163.6,35.5 L164.2,35.5 L164.8,35.8 L165.4,36.2 L166.0,36.8 L166.6,37.4 L167.2,38.1 L167.8,38.8 L168.4,39.5 L169.0,40.2 L169.6,40.8 L170.2,41.1 L170.8,41.1 L171.4,40.8 L172.0,40.0 L172.6,39.1 L173.2,38.1 L173.8,37.1 L174.4,36.2 L175.0,35.3 L175.6,34.5 L176.2,33.7 L176.8,33.0 L177.4,32.5 L178.0,32.2 L178.6,32.2 L179.2,32.5 L179.8,33.1 L180.4,33.8 L181.0,34.5 L181.6,35.2 L182.2,35.9 L182.8,36.6 L183.4,37.0 L184.0,37.1 L184.6,36.8 L185.2,36.1 L185.8,35.2 L186.4,34.2 L187.0,33.2 L187.6,32.4 L188.2,31.6 L188.8,30.8 L189.4,30.0 L190.0,29.4 L190.6,28.9 L191.2,28.9 L191.8,29.3 L192.4,30.0 L193.0,30.8 L193.6,31.6 L194.2,32.3 L194.8,32.9 L195.4,33.5 L196.0,33.7 L196.6,33.6 L197.2,33.2 L197.8,32.5 L198.4,31.7 L199.0,31.0 L199.6,30.5 L200.2,29.9 L200.8,29.4 L201.4,29.2 L202.0,29.2 L202.6,29.6 L203.2,30.3 L203.8,31.2 L204.4,32.2 L205.0,33.3 L205.6,34.6 L206.2,35.9 L206.8,37.2 L207.4,38.7 L208.0,40.1 L208.6,41.4 L209.2,42.4 L209.8,43.3 L210.4,44.0 L211.0,44.7 L211.6,45.4 L212.2,45.9 L212.8,46.5 L213.4,46.9 L214.0,47.4 L214.6,47.8 L215.2,48.2 L215.8,48.5 L216.4,48.9 L217.0,49.2 L217.6,49.6 L218.2,49.9 L218.8,50.2 L219.4,50.4 L220.0,50.7 L220.6,50.9 L221.2,51.1 L221.8,51.3 L222.4,51.5 L223.0,51.6 L223.6,51.7 L224.2,51.8 L224.8,51.9 L225.4,52.0 L226.0,52.1 L226.6,52.2 L227.2,52.3 L227.8,52.4 L228.4,52.5 L229.0,52.6 L229.6,52.7 L230.2,52.7 L230.8,52.8 L231.4,52.8 L232.0,52.9 L232.6,52.9 L233.2,53.0 L233.8,53.0 L234.4,53.0 L235.0,53.0 L235.6,53.0 L236.2,53.0 L236.8,53.0 L237.4,53.0 L238.0,53.0 L238.6,53.0 L239.2,53.0 L239.8,53.0 L240.4,53.0 L241.0,53.0 L241.6,53.0 L242.2,52.9 L242.8,52.9 L243.4,52.9 L244.0,52.9 L244.6,52.9 L245.2,52.9 L245.8,52.9 L246.4,52.9 L247.0,52.9 L247.6,52.9 L248.2,52.8 L248.8,52.8 L249.4,52.8 L250.0,52.8 L250.6,52.8 L251.2,52.8 L251.8,52.8 L252.4,52.8 L253.0,52.7 L253.6,52.7 L254.2,52.7 L254.8,52.7 L255.4,52.7 L256.0,52.7 L256.6,52.7 L257.2,52.7 L257.8,52.6 L258.4,52.6 L259.0,52.6 L259.6,52.6 L260.2,52.6 L260.8,52.6 L261.4,52.6 L262.0,52.6 L262.6,52.6 L263.2,52.5 L263.8,52.5 L264.4,52.5 L265.0,52.5 L265.6,52.5 L266.2,52.5 L266.8,52.5 L267.4,52.5 L268.0,52.5 L268.6,52.4 L269.2,52.4 L269.8,52.4 L270.4,52.4 L271.0,52.4 L271.6,52.4 L272.2,52.4 L272.8,52.4 L273.4,52.4 L274.0,52.3 L274.6,52.3 L275.2,52.3 L275.8,52.3 L276.4,52.3 L277.0,52.3 L277.6,52.3 L278.2,52.3 L278.8,52.2 L279.4,52.2 L280.0,52.2 L280.6,52.2 L281.2,52.2 L281.8,52.2 L282.4,52.2 L283.0,52.2 L283.6,52.1 L284.2,52.1 L284.8,52.1 L285.4,52.1 L286.0,52.1 L286.6,52.1 L287.2,52.1 L287.8,52.1 L288.4,52.0 L289.0,52.0 L289.6,52.0 L290.2,52.0 L290.8,52.0 L291.4,52.0 L292.0,52.0 L292.6,52.0 L293.2,51.9 L293.8,51.9 L294.4,51.9 L295.0,51.9 L295.6,51.9 L296.2,51.9 L296.8,51.9 L297.4,51.9 L298.0,51.8 L298.6,51.8 L299.2,51.8 L299.8,51.8 L300.4,51.8 L301.0,51.8 L301.6,51.8 L302.2,51.8 L302.8,51.7 L303.4,51.7 L304.0,51.7 L304.6,51.7 L305.2,51.7 L305.8,51.7 L306.4,51.7 L307.0,51.6 L307.6,51.6 L308.2,51.6 L308.8,51.6 L309.4,51.6 L310.0,51.6 L310.6,51.6 L311.2,51.6 L311.8,51.5 L312.4,51.5 L313.0,51.5 L313.6,51.5 L314.2,51.5 L314.8,51.5 L315.4,51.5 L316.0,51.4 L316.6,51.4 L317.2,51.4 L317.8,51.4 L318.4,51.4 L319.0,51.4 L319.6,51.4 L320.2,51.4 L320.8,51.3 L321.4,51.3 L322.0,51.3 L322.6,51.3 L323.2,51.3 L323.8,51.3 L324.4,51.3 L325.0,51.2 L325.6,51.2 L326.2,51.2 L326.8,51.2 L327.4,51.2 L328.0,51.2 L328.6,51.2 L329.2,51.1 L329.8,51.1 L330.4,51.1 L331.0,51.1 L331.6,51.1 L332.2,51.1 L332.8,51.1 L333.4,51.0 L334.0,51.0 L334.6,51.0 L335.2,51.0 L335.8,51.0 L336.4,51.0 L337.0,51.0 L337.6,51.0 L338.2,50.9 L338.8,50.9 L339.4,50.9 L340.0,50.9 L340.6,50.9 L341.2,50.9 L341.8,50.8 L342.4,50.8 L343.0,50.8 L343.6,50.8 L344.2,50.8 L344.8,50.8 L345.4,50.8 L346.0,50.7 L346.6,50.7 L347.2,50.7 L347.8,50.7 L348.4,50.7 L349.0,50.7 L349.6,50.7 L350.2,50.6 L350.8,50.6 L351.4,50.6 L352.0,50.6 L352.6,50.6 L353.2,50.6 L353.8,50.6 L354.4,50.5 L355.0,50.5 L355.6,50.5 L356.2,50.5 L356.8,50.5 L357.4,50.5 L358.0,50.5 L358.6,50.4 L359.2,50.4 L359.8,50.4"/>
<path d="M44.2,92.7 L44.8,92.7 L45.4,92.7 L46.0,92.7 L46.6,92.8 L47.2,92.8 L47.8,92.8 L48.4,92.8 L49.0,92.8 L49.6,92.8 L50.2,92.8 L50.8,92.8 L51.4,92.8 L52.0,92.9 L52.6,92.9 L53.2,92.9 L53.8,92.9 L54.4,92.9 L55.0,92.9 L55.6,92.9 L56.2,92.9 L56.8,92.9 L57.4,92.9 L58.0,92.9 L58.6,92.9 L59.2,92.9 L59.8,92.9 L60.4,93.0 L61.0,93.0 L61.6,93.0 L62.2,93.0 L62.8,93.0 L63.4,93.0 L64.0,93.0 L64.6,93.0 L65.2,93.0 L65.8,93.0 L66.4,93.0 L67.0,93.0 L67.6,93.0 L68.2,93.0 L68.8,93.0 L69.4,93.0 L70.0,93.0 L70.6,93.0 L71.2,93.0 L71.8,93.0 L72.4,93.0 L73.0,93.0 L73.6,93.0 L74.2,93.0 L74.8,93.0 L75.4,93.0 L76.0,93.0 L76.6,93.0 L77.2,93.0 L77.8,93.0 L78.4,93.0 L79.0,93.0 L79.6,93.0 L80.2,92.9 L80.8,92.7 L81.4,92.5 L82.0,92.1 L82.6,91.7 L83.2,91.2 L83.8,90.8 L84.4,90.4 L85.0,90.0 L85.6,89.6 L86.2,89.2 L86.8,88.8 L87.4,88.4 L88.0,87.9 L88.6,87.6 L89.2,87.2 L89.8,87.0 L90.4,86.9 L91.0,86.8 L91.6,86.9 L92.2,87.0 L92.8,87.2 L93.4,87.5 L94.0,87.7 L94.6,87.9 L95.2,88.1 L95.8,88.2 L96.4,88.3 L97.0,88.2 L97.6,88.1 L98.2,87.9 L98.8,87.6 L99.4,87.3 L100.0,87.1 L100.6,86.8 L101.2,86.6 L101.8,86.4 L102.4,86.3 L103.0,86.4 L103.6,86.5 L104.2,86.7 L104.8,87.0 L105.4,87.4 L106.0,87.7 L106.6,88.0 L107.2,88.3 L107.8,88.5 L108.4,88.7 L109.0,88.8 L109.6,88.7 L110.2,88.5 L110.8,88.3 L111.4,88.0 L112.0,87.6 L112.6,87.3 L113.2,87.0 L113.8,86.8 L114.4,86.6 L115.0,86.5 L115.6,86.6 L116.2,86.7 L116.8,86.9 L117.4,87.1 L118.0,87.4 L118.6,87.7 L119.2,88.0 L119.8,88.3 L120.4,88.5 L121.0,88.7 L121.6,88.9 L122.2,89.0 L122.8,89.0 L123.4,88.9 L124.0,88.8 L124.6,88.6 L125.2,88.4 L125.8,88.2 L126.4,88.0 L127.0,87.7 L127.6,87.6 L128.2,87.4 L128.8,87.4 L129.4,87.3 L130.0,87.5 L130.6,87.7 L131.2,88.0 L131.8,88.5 L132.4,88.9 L133.0,89.3 L133.6,89.7 L134.2,90.1 L134.8,90.4 L135.4,90.8 L136.0,91.1 L136.6,91.4 L137.2,91.7 L137.8,92.0 L138.4,92.3 L139.0,92.6 L139.6,92.8 L140.2,93.1 L140.8,93.3 L141.4,93.6 L142.0,93.8 L142.6,94.1 L143.2,94.3 L143.8,94.5 L144.4,94.7 L145.0,94.9 L145.6,95.1 L146.2,95.2 L146.8,95.3 L147.4,95.3 L148.0,95.4 L148.6,95.4 L149.2,95.4 L149.8,95.5 L150.4,95.5 L151.0,95.5 L151.6,95.6 L152.2,95.6 L152.8,95.6 L153.4,95.6 L154.0,95.6 L154.6,95.5 L155.2,95.5 L155.8,95.3 L156.4,95.1 L157.0,94.9 L157.6,94.7 L158.2,94.4 L158.8,94.1 L159.4,93.7 L160.0,93.2 L160.6,92.6 L161.2,91.9 L161.8,91.1 L162.4,90.2 L163.0,89.3 L163.6,88.2 L164.2,87.0 L164.8,85.6 L165.4,84.3 L166.0,83.0 L166.6,81.8 L167.2,80.6 L167.8,79.5 L168.4,78.5 L169.0,77.5 L169.6,76.6 L170.2,75.8 L170.8,75.3 L171.4,75.3 L172.0,75.6 L172.6,76.1 L173.2,76.7 L173.8,77.3 L174.4,78.0 L175.0,78.9 L175.6,79.8 L176.2,80.6 L176.8,81.2 L177.4,81.5 L178.0,81.3 L178.6,80.9 L179.2,80.2 L179.8,79.4 L180.4,78.5 L181.0,77.7 L181.6,76.8 L182.2,76.0 L182.8,75.0 L183.4,74.0 L184.0,73.1 L184.6,72.4 L185.2,72.1 L185.8,72.1 L186.4,72.4 L187.0,73.0 L187.6,73.6 L188.2,74.2 L188.8,74.8 L189.4,75.4 L190.0,76.1 L190.6,76.7 L191.2,77.1 L191.8,77.3 L192.4,77.2 L193.0,76.5 L193.6,75.5 L194.2,74.4 L194.8,73.4 L195.4,72.4 L196.0,71.5 L196.6,70.7 L197.2,69.9 L197.8,69.4 L198.4,69.2 L199.0,69.4 L199.6,69.8 L200.2,70.4 L200.8,71.1 L201.4,71.7 L202.0,72.3 L202.6,73.0 L203.2,73.5 L203.8,73.8 L204.4,73.7 L205.0,73.2 L205.6,72.5 L206.2,71.6 L206.8,70.8 L207.4,70.0 L208.0,69.3 L208.6,68.6 L209.2,68.3 L209.8,68.3 L210.4,68.8 L211.0,69.5 L211.6,70.4 L212.2,71.5 L212.8,72.8 L213.4,74.4 L214.0,76.0 L214.6,77.5 L215.2,78.9 L215.8,80.3 L216.4,81.5 L217.0,82.5 L217.6,83.4 L218.2,84.2 L218.8,84.8 L219.4,85.4 L220.0,86.0 L220.6,86.5 L221.2,86.9 L221.8,87.4 L222.4,87.8 L223.0,88.1 L223.6,88.5 L224.2,88.8 L224.8,89.2 L225.4,89.5 L226.0,89.8 L226.6,90.2 L227.2,90.5 L227.8,90.7 L228.4,91.0 L229.0,91.2 L229.6,91.4 L230.2,91.5 L230.8,91.7 L231.4,91.8 L232.0,91.9 L232.6,92.0 L233.2,92.1 L233.8,92.2 L234.4,92.3 L235.0,92.4 L235.6,92.5 L236.2,92.6 L236.8,92.6 L237.4,92.7 L238.0,92.7 L238.6,92.8 L239.2,92.8 L239.8,92.8 L240.4,92.8 L241.0,92.8 L241.6,92.8 L242.2,92.8 L242.8,92.8 L243.4,92.8 L244.0,92.8 L244.6,92.8 L245.2,92.8 L245.8,92.8 L246.4,92.8 L247.0,92.8 L247.6,92.8 L248.2,92.8 L248.8,92.8 L249.4,92.8 L250.0,92.8 L250.6,92.8 L251.2,92.8 L251.8,92.8 L252.4,92.7 L253.0,92.7 L253.6,92.7 L254.2,92.7 L254.8,92.7 L255.4,92.7 L256.0,92.7 L256.6,92.7 L257.2,92.7 L257.8,92.7 L258.4,92.7 L259.0,92.7 L259.6,92.7 L260.2,92.7 L260.8,92.7 L261.4,92.7 L262.0,92.6 L262.6,92.6 L263.2,92.6 L263.8,92.6 L264.4,92.6 L265.0,92.6 L265.6,92.6 L266.2,92.6 L266.8,92.6 L267.4,92.6 L268.0,92.6 L268.6,92.6 L269.2,92.5 L269.8,92.5 L270.4,92.5 L271.0,92.5 L271.6,92.5 L272.2,92.5 L272.8,92.5 L273.4,92.5 L274.0,92.5 L274.6,92.5 L275.2,92.4 L275.8,92.4 L276.4,92.4 L277.0,92.4 L277.6,92.4 L278.2,92.4 L278.8,92.4 L279.4,92.4 L280.0,92.4 L280.6,92.4 L281.2,92.3 L281.8,92.3 L282.4,92.3 L283.0,92.3 L283.6,92.3 L284.2,92.3 L284.8,92.3 L285.4,92.3 L286.0,92.3 L286.6,92.2 L287.2,92.2 L287.8,92.2 L288.4,92.2 L289.0,92.2 L289.6,92.2 L290.2,92.2 L290.8,92.2 L291.4,92.2 L292.0,92.1 L292.6,92.1 L293.2,92.1 L293.8,92.1 L294.4,92.1 L295.0,92.1 L295.6,92.1 L296.2,92.1 L296.8,92.1 L297.4,92.0 L298.0,92.0 L298.6,92.0 L299.2,92.0 L299.8,92.0 L300.4,92.0 L301.0,92.0 L301.6,92.0 L302.2,92.0 L302.8,92.0 L303.4,91.9 L304.0,91.9 L304.6,91.9 L305.2,91.9 L305.8,91.9 L306.4,91.9 L307.0,91.9 L307.6,91.9 L308.2,91.8 L308.8,91.8 L309.4,91.8 L310.0,91.8 L310.6,91.8 L311.2,91.8 L311.8,91.8 L312.4,91.8 L313.0,91.7 L313.6,91.7 L314.2,91.7 L314.8,91.7 L315.4,91.7 L316.0,91.7 L316.6,91.7 L317.2,91.7 L317.8,91.6 L318.4,91.6 L319.0,91.6 L319.6,91.6 L320.2,91.6 L320.8,91.6 L321.4,91.6 L322.0,91.5 L322.6,91.5 L323.2,91.5 L323.8,91.5 L324.4,91.5 L325.0,91.5 L325.6,91.5 L326.2,91.4 L326.8,91.4 L327.4,91.4 L328.0,91.4 L328.6,91.4 L329.2,91.4 L329.8,91.4 L330.4,91.3 L331.0,91.3 L331.6,91.3 L332.2,91.3 L332.8,91.3 L333.4,91.3 L334.0,91.2 L334.6,91.2 L335.2,91.2 L335.8,91.2 L336.4,91.2 L337.0,91.2 L337.6,91.2 L338.2,91.1 L338.8,91.1 L339.4,91.1 L340.0,91.1 L340.6,91.1 L341.2,91.1 L341.8,91.0 L342.4,91.0 L343.0,91.0 L343.6,91.0 L344.2,91.0 L344.8,91.0 L345.4,90.9 L346.0,90.9 L346.6,90.9 L347.2,90.9 L347.8,90.9 L348.4,90.8 L349.0,90.8 L349.6,90.8 L350.2,90.8 L350.8,90.8 L351.4,90.8 L352.0,90.7 L352.6,90.7 L353.2,90.7 L353.8,90.7 L354.4,90.7 L355.0,90.7 L355.6,90.6 L356.2,90.6 L356.8,90.6 L357.4,90.6 L358.0,90.6 L358.6,90.5 L359.2,90.5 L359.8,90.5"/>
<path d="M44.2,126.3 L44.8,126.3 L45.4,126.4 L46.0,126.4 L46.6,126.4 L47.2,126.5 L47.8,126.5 L48.4,126.5 L49.0,126.5 L49.6,126.6 L50.2,126.6 L50.8,126.6 L51.4,126.7 L52.0,126.7 L52.6,126.7 L53.2,126.7 L53.8,126.8 L54.4,126.8 L55.0,126.8 L55.6,126.8 L56.2,126.9 L56.8,126.9 L57.4,126.9 L58.0,126.9 L58.6,127.0 L59.2,127.0 L59.8,127.0 L60.4,127.0 L61.0,127.1 L61.6,127.1 L62.2,127.1 L62.8,127.1 L63.4,127.1 L64.0,127.2 L64.6,127.2 L65.2,127.2 L65.8,127.2 L66.4,127.3 L67.0,127.3 L67.6,127.3 L68.2,127.3 L68.8,127.3 L69.4,127.3 L70.0,127.4 L70.6,127.4 L71.2,127.4 L71.8,127.4 L72.4,127.4 L73.0,127.4 L73.6,127.5 L74.2,127.5 L74.8,127.5 L75.4,127.5 L76.0,127.5 L76.6,127.5 L77.2,127.6 L77.8,127.6 L78.4,127.6 L79.0,127.6 L79.6,127.6 L80.2,127.6 L80.8,127.6 L81.4,127.7 L82.0,127.7 L82.6,127.7 L83.2,127.7 L83.8,127.7 L84.4,127.7 L85.0,127.7 L85.6,127.7 L86.2,127.7 L86.8,127.7 L87.4,127.7 L88.0,127.6 L88.6,127.6 L89.2,127.6 L89.8,127.6 L90.4,127.5 L91.0,127.5 L91.6,127.4 L92.2,127.4 L92.8,127.3 L93.4,127.3 L94.0,127.2 L94.6,127.1 L95.2,127.1 L95.8,126.9 L96.4,126.7 L97.0,126.4 L97.6,126.1 L98.2,125.8 L98.8,125.4 L99.4,125.0 L100.0,124.6 L100.6,124.1 L101.2,123.4 L101.8,122.8 L102.4,122.1 L103.0,121.6 L103.6,121.3 L104.2,121.2 L104.8,121.2 L105.4,121.4 L106.0,121.6 L106.6,121.9 L107.2,122.1 L107.8,122.4 L108.4,122.6 L109.0,122.8 L109.6,122.9 L110.2,122.8 L110.8,122.7 L111.4,122.6 L112.0,122.3 L112.6,122.0 L113.2,121.8 L113.8,121.5 L114.4,121.2 L115.0,121.1 L115.6,121.0 L116.2,120.9 L116.8,121.0 L117.4,121.2 L118.0,121.4 L118.6,121.7 L119.2,121.9 L119.8,122.3 L120.4,122.5 L121.0,122.8 L121.6,123.0 L122.2,123.2 L122.8,123.3 L123.4,123.2 L124.0,123.1 L124.6,122.8 L125.2,122.5 L125.8,122.2 L126.4,121.9 L127.0,121.5 L127.6,121.3 L128.2,121.1 L128.8,121.0 L129.4,121.1 L130.0,121.2 L130.6,121.5 L131.2,121.8 L131.8,122.1 L132.4,122.5 L133.0,122.9 L133.6,123.2 L134.2,123.6 L134.8,123.9 L135.4,124.2 L136.0,124.4 L136.6,124.5 L137.2,124.5 L137.8,124.4 L138.4,124.2 L139.0,123.9 L139.6,123.5 L140.2,123.1 L140.8,122.7 L141.4,122.3 L142.0,122.0 L142.6,121.8 L143.2,121.8 L143.8,121.8 L144.4,122.1 L145.0,122.4 L145.6,122.9 L146.2,123.4 L146.8,123.9 L147.4,124.4 L148.0,124.8 L148.6,125.3 L149.2,125.7 L149.8,126.2 L150.4,126.7 L151.0,127.1 L151.6,127.5 L152.2,127.9 L152.8,128.1 L153.4,128.3 L154.0,128.5 L154.6,128.6 L155.2,128.7 L155.8,128.8 L156.4,128.9 L157.0,129.0 L157.6,129.1 L158.2,129.2 L158.8,129.3 L159.4,129.3 L160.0,129.4 L160.6,129.4 L161.2,129.4 L161.8,129.4 L162.4,129.4 L163.0,129.3 L163.6,129.3 L164.2,129.2 L164.8,129.1 L165.4,129.0 L166.0,128.8 L166.6,128.7 L167.2,128.5 L167.8,128.4 L168.4,128.2 L169.0,127.9 L169.6,127.5 L170.2,127.1 L170.8,126.6 L171.4,126.1 L172.0,125.4 L172.6,124.6 L173.2,123.8 L173.8,122.9 L174.4,121.9 L175.0,120.9 L175.6,119.8 L176.2,118.5 L176.8,117.2 L177.4,115.8 L178.0,114.3 L178.6,112.9 L179.2,111.8 L179.8,111.0 L180.4,110.4 L181.0,110.2 L181.6,110.4 L182.2,110.7 L182.8,111.3 L183.4,112.0 L184.0,112.9 L184.6,113.7 L185.2,114.4 L185.8,115.0 L186.4,115.5 L187.0,115.9 L187.6,116.2 L188.2,116.1 L188.8,115.7 L189.4,115.1 L190.0,114.2 L190.6,113.3 L191.2,112.4 L191.8,111.4 L192.4,110.4 L193.0,109.5 L193.6,108.8 L194.2,108.2 L194.8,107.6 L195.4,107.2 L196.0,107.0 L196.6,107.1 L197.2,107.4 L197.8,107.9 L198.4,108.5 L199.0,109.0 L199.6,109.6 L200.2,110.2 L200.8,110.8 L201.4,111.3 L202.0,111.6 L202.6,111.6 L203.2,111.1 L203.8,110.3 L204.4,109.3 L205.0,108.3 L205.6,107.4 L206.2,106.6 L206.8,105.7 L207.4,105.0 L208.0,104.5 L208.6,104.2 L209.2,104.4 L209.8,104.8 L210.4,105.4 L211.0,106.0 L211.6,106.6 L212.2,107.1 L212.8,107.6 L213.4,108.0 L214.0,108.2 L214.6,108.1 L215.2,107.6 L215.8,107.0 L216.4,106.2 L217.0,105.5 L217.6,104.8 L218.2,104.1 L218.8,103.7 L219.4,103.7 L220.0,104.1 L220.6,105.0 L221.2,106.0 L221.8,107.1 L222.4,108.5 L223.0,110.0 L223.6,111.5 L224.2,113.0 L224.8,114.4 L225.4,115.9 L226.0,117.2 L226.6,118.3 L227.2,119.2 L227.8,119.9 L228.4,120.5 L229.0,121.0 L229.6,121.5 L230.2,121.9 L230.8,122.3 L231.4,122.6 L232.0,122.9 L232.6,123.1 L233.2,123.4 L233.8,123.6 L234.4,123.8 L235.0,124.0 L235.6,124.2 L236.2,124.4 L236.8,124.6 L237.4,124.8 L238.0,125.0 L238.6,125.1 L239.2,125.3 L239.8,125.4 L240.4,125.5 L241.0,125.7 L241.6,125.7 L242.2,125.8 L242.8,125.9 L243.4,126.0 L244.0,126.0 L244.6,126.1 L245.2,126.1 L245.8,126.2 L246.4,126.2 L247.0,126.3 L247.6,126.3 L248.2,126.4 L248.8,126.4 L249.4,126.4 L250.0,126.4 L250.6,126.4 L251.2,126.4 L251.8,126.4 L252.4,126.4 L253.0,126.4 L253.6,126.4 L254.2,126.4 L254.8,126.4 L255.4,126.4 L256.0,126.4 L256.6,126.4 L257.2,126.4 L257.8,126.4 L258.4,126.4 L259.0,126.4 L259.6,126.4 L260.2,126.4 L260.8,126.4 L261.4,126.4 L262.0,126.4 L262.6,126.4 L263.2,126.4 L263.8,126.4 L264.4,126.4 L265.0,126.4 L265.6,126.4 L266.2,126.4 L266.8,126.4 L267.4,126.4 L268.0,126.4 L268.6,126.4 L269.2,126.4 L269.8,126.4 L270.4,126.4 L271.0,126.4 L271.6,126.4 L272.2,126.4 L272.8,126.4 L273.4,126.4 L274.0,126.4 L274.6,126.4 L275.2,126.4 L275.8,126.4 L276.4,126.4 L277.0,126.4 L277.6,126.4 L278.2,126.4 L278.8,126.4 L279.4,126.4 L280.0,126.4 L280.6,126.4 L281.2,126.4 L281.8,126.4 L282.4,126.4 L283.0,126.4 L283.6,126.4 L284.2,126.4 L284.8,126.3 L285.4,126.3 L286.0,126.3 L286.6,126.3 L287.2,126.3 L287.8,126.3 L288.4,126.3 L289.0,126.3 L289.6,126.3 L290.2,126.3 L290.8,126.3 L291.4,126.3 L292.0,126.3 L292.6,126.3 L293.2,126.3 L293.8,126.3 L294.4,126.3 L295.0,126.3 L295.6,126.3 L296.2,126.3 L296.8,126.3 L297.4,126.3 L298.0,126.3 L298.6,126.3 L299.2,126.3 L299.8,126.3 L300.4,126.3 L301.0,126.3 L301.6,126.3 L302.2,126.3 L302.8,126.3 L303.4,126.3 L304.0,126.3 L304.6,126.3 L305.2,126.3 L305.8,126.3 L306.4,126.3 L307.0,126.3 L307.6,126.2 L308.2,126.2 L308.8,126.2 L309.4,126.2 L310.0,126.2 L310.6,126.2 L311.2,126.2 L311.8,126.2 L312.4,126.2 L313.0,126.2 L313.6,126.2 L314.2,126.2 L314.8,126.2 L315.4,126.2 L316.0,126.1 L316.6,126.1 L317.2,126.1 L317.8,126.1 L318.4,126.1 L319.0,126.1 L319.6,126.1 L320.2,126.1 L320.8,126.1 L321.4,126.0 L322.0,126.0 L322.6,126.0 L323.2,126.0 L323.8,126.0 L324.4,126.0 L325.0,126.0 L325.6,126.0 L326.2,126.0 L326.8,125.9 L327.4,125.9 L328.0,125.9 L328.6,125.9 L329.2,125.9 L329.8,125.9 L330.4,125.9 L331.0,125.8 L331.6,125.8 L332.2,125.8 L332.8,125.8 L333.4,125.8 L334.0,125.8 L334.6,125.8 L335.2,125.7 L335.8,125.7 L336.4,125.7 L337.0,125.7 L337.6,125.7 L338.2,125.7 L338.8,125.6 L339.4,125.6 L340.0,125.6 L340.6,125.6 L341.2,125.6 L341.8,125.6 L342.4,125.5 L343.0,125.5 L343.6,125.5 L344.2,125.5 L344.8,125.5 L345.4,125.5 L346.0,125.4 L346.6,125.4 L347.2,125.4 L347.8,125.4 L348.4,125.4 L349.0,125.3 L349.6,125.3 L350.2,125.3 L350.8,125.3 L351.4,125.3 L352.0,125.3 L352.6,125.2 L353.2,125.2 L353.8,125.2 L354.4,125.2 L355.0,125.2 L355.6,125.1 L356.2,125.1 L356.8,125.1 L357.4,125.1 L358.0,125.1 L358.6,125.0 L359.2,125.0 L359.8,125.0"/>
<path d="M44.2,161.2 L44.8,161.2 L45.4,161.2 L46.0,161.2 L46.6,161.2 L47.2,161.2 L47.8,161.2 L48.4,161.2 L49.0,161.2 L49.6,161.2 L50.2,161.2 L50.8,161.2 L51.4,161.2 L52.0,161.3 L52.6,161.3 L53.2,161.3 L53.8,161.3 L54.4,161.3 L55.0,161.3 L55.6,161.3 L56.2,161.3 L56.8,161.3 L57.4,161.3 L58.0,161.3 L58.6,161.3 L59.2,161.4 L59.8,161.4 L60.4,161.4 L61.0,161.4 L61.6,161.4 L62.2,161.4 L62.8,161.4 L63.4,161.4 L64.0,161.4 L64.6,161.4 L65.2,161.5 L65.8,161.5 L66.4,161.5 L67.0,161.5 L67.6,161.5 L68.2,161.5 L68.8,161.5 L69.4,161.5 L70.0,161.6 L70.6,161.6 L71.2,161.6 L71.8,161.6 L72.4,161.6 L73.0,161.6 L73.6,161.6 L74.2,161.7 L74.8,161.7 L75.4,161.7 L76.0,161.7 L76.6,161.7 L77.2,161.7 L77.8,161.7 L78.4,161.8 L79.0,161.8 L79.6,161.8 L80.2,161.8 L80.8,161.8 L81.4,161.8 L82.0,161.9 L82.6,161.9 L83.2,161.9 L83.8,161.9 L84.4,161.9 L85.0,162.0 L85.6,162.0 L86.2,162.0 L86.8,162.0 L87.4,162.1 L88.0,162.1 L88.6,162.1 L89.2,162.1 L89.8,162.2 L90.4,162.2 L91.0,162.2 L91.6,162.3 L92.2,162.3 L92.8,162.3 L93.4,162.4 L94.0,162.4 L94.6,162.4 L95.2,162.5 L95.8,162.5 L96.4,162.5 L97.0,162.5 L97.6,162.6 L98.2,162.6 L98.8,162.6 L99.4,162.7 L100.0,162.7 L100.6,162.7 L101.2,162.8 L101.8,162.8 L102.4,162.8 L103.0,162.8 L103.6,162.9 L104.2,162.9 L104.8,162.9 L105.4,162.9 L106.0,163.0 L106.6,163.0 L107.2,163.0 L107.8,163.0 L108.4,163.1 L109.0,163.1 L109.6,163.1 L110.2,163.1 L110.8,163.1 L111.4,163.1 L112.0,163.1 L112.6,163.2 L113.2,163.2 L113.8,163.2 L114.4,163.2 L115.0,163.2 L115.6,163.2 L116.2,163.2 L116.8,163.2 L117.4,163.2 L118.0,163.3 L118.6,163.3 L119.2,163.3 L119.8,163.3 L120.4,163.3 L121.0,163.3 L121.6,163.4 L122.2,163.4 L122.8,163.4 L123.4,163.4 L124.0,163.4 L124.6,163.5 L125.2,163.5 L125.8,163.5 L126.4,163.6 L127.0,163.6 L127.6,163.6 L128.2,163.7 L128.8,163.7 L129.4,163.7 L130.0,163.8 L130.6,163.8 L131.2,163.8 L131.8,163.9 L132.4,163.9 L133.0,163.9 L133.6,163.9 L134.2,164.0 L134.8,164.0 L135.4,164.0 L136.0,164.0 L136.6,164.1 L137.2,164.1 L137.8,164.1 L138.4,164.1 L139.0,164.1 L139.6,164.1 L140.2,164.1 L140.8,164.1 L141.4,164.0 L142.0,163.9 L142.6,163.8 L143.2,163.7 L143.8,163.5 L144.4,163.4 L145.0,163.2 L145.6,162.8 L146.2,162.3 L146.8,161.7 L147.4,161.1 L148.0,160.5 L148.6,159.9 L149.2,159.3 L149.8,158.7 L150.4,158.1 L151.0,157.7 L151.6,157.5 L152.2,157.5 L152.8,157.5 L153.4,157.7 L154.0,157.9 L154.6,158.1 L155.2,158.4 L155.8,158.6 L156.4,158.8 L157.0,158.9 L157.6,159.0 L158.2,158.9 L158.8,158.7 L159.4,158.5 L160.0,158.2 L160.6,157.8 L161.2,157.5 L161.8,157.2 L162.4,156.9 L163.0,156.8 L163.6,156.8 L164.2,156.9 L164.8,157.2 L165.4,157.5 L166.0,158.0 L166.6,158.4 L167.2,158.8 L167.8,159.2 L168.4,159.4 L169.0,159.5 L169.6,159.5 L170.2,159.4 L170.8,159.1 L171.4,158.8 L172.0,158.5 L172.6,158.1 L173.2,157.8 L173.8,157.6 L174.4,157.4 L175.0,157.4 L175.6,157.4 L176.2,157.7 L176.8,158.0 L177.4,158.4 L178.0,158.9 L178.6,159.4 L179.2,159.9 L179.8,160.3 L180.4,160.7 L181.0,161.0 L181.6,161.1 L182.2,161.1 L182.8,161.1 L183.4,160.9 L184.0,160.6 L184.6,160.3 L185.2,160.0 L185.8,159.7 L186.4,159.3 L187.0,159.0 L187.6,158.7 L188.2,158.5 L188.8,158.4 L189.4,158.3 L190.0,158.4 L190.6,158.6 L191.2,158.9 L191.8,159.3 L192.4,159.7 L193.0,160.0 L193.6,160.4 L194.2,160.8 L194.8,161.2 L195.4,161.5 L196.0,161.8 L196.6,161.9 L197.2,161.8 L197.8,161.8 L198.4,161.6 L199.0,161.4 L199.6,161.1 L200.2,160.5 L200.8,159.7 L201.4,158.7 L202.0,157.4 L202.6,155.9 L203.2,154.2 L203.8,152.5 L204.4,150.9 L205.0,149.3 L205.6,147.9 L206.2,146.8 L206.8,146.1 L207.4,145.7 L208.0,145.6 L208.6,145.9 L209.2,146.5 L209.8,147.3 L210.4,148.1 L211.0,149.1 L211.6,150.2 L212.2,151.2 L212.8,152.2 L213.4,153.0 L214.0,153.8 L214.6,154.5 L215.2,155.1 L215.8,155.5 L216.4,155.6 L217.0,155.4 L217.6,154.6 L218.2,153.6 L218.8,152.4 L219.4,151.2 L220.0,150.0 L220.6,148.9 L221.2,147.8 L221.8,146.7 L222.4,145.7 L223.0,144.8 L223.6,144.0 L224.2,143.6 L224.8,143.5 L225.4,143.8 L226.0,144.4 L226.6,145.1 L227.2,145.8 L227.8,146.7 L228.4,147.7 L229.0,148.7 L229.6,149.3 L230.2,149.4 L230.8,149.0 L231.4,148.3 L232.0,147.4 L232.6,146.4 L233.2,145.4 L233.8,144.6 L234.4,143.8 L235.0,143.0 L235.6,142.2 L236.2,141.6 L236.8,141.2 L237.4,141.0 L238.0,141.2 L238.6,141.6 L239.2,142.2 L239.8,142.8 L240.4,143.4 L241.0,144.0 L241.6,144.6 L242.2,144.9 L242.8,144.8 L243.4,144.3 L244.0,143.4 L244.6,142.6 L245.2,141.9 L245.8,141.3 L246.4,140.8 L247.0,140.4 L247.6,140.2 L248.2,140.4 L248.8,141.0 L249.4,141.9 L250.0,143.1 L250.6,144.2 L251.2,145.6 L251.8,147.0 L252.4,148.6 L253.0,150.0 L253.6,151.2 L254.2,152.4 L254.8,153.4 L255.4,154.4 L256.0,155.3 L256.6,156.1 L257.2,156.8 L257.8,157.3 L258.4,157.8 L259.0,158.3 L259.6,158.7 L260.2,159.1 L260.8,159.4 L261.4,159.8 L262.0,160.1 L262.6,160.3 L263.2,160.6 L263.8,160.8 L264.4,160.9 L265.0,161.1 L265.6,161.2 L266.2,161.4 L266.8,161.5 L267.4,161.6 L268.0,161.7 L268.6,161.8 L269.2,161.9 L269.8,162.0 L270.4,162.1 L271.0,162.2 L271.6,162.2 L272.2,162.3 L272.8,162.3 L273.4,162.4 L274.0,162.4 L274.6,162.5 L275.2,162.5 L275.8,162.5 L276.4,162.6 L277.0,162.6 L277.6,162.6 L278.2,162.6 L278.8,162.7 L279.4,162.7 L280.0,162.7 L280.6,162.7 L281.2,162.7 L281.8,162.8 L282.4,162.8 L283.0,162.8 L283.6,162.8 L284.2,162.8 L284.8,162.8 L285.4,162.8 L286.0,162.8 L286.6,162.8 L287.2,162.8 L287.8,162.8 L288.4,162.8 L289.0,162.8 L289.6,162.8 L290.2,162.8 L290.8,162.8 L291.4,162.8 L292.0,162.8 L292.6,162.8 L293.2,162.8 L293.8,162.7 L294.4,162.7 L295.0,162.7 L295.6,162.7 L296.2,162.7 L296.8,162.7 L297.4,162.7 L298.0,162.7 L298.6,162.7 L299.2,162.7 L299.8,162.7 L300.4,162.6 L301.0,162.6 L301.6,162.6 L302.2,162.6 L302.8,162.6 L303.4,162.6 L304.0,162.6 L304.6,162.6 L305.2,162.5 L305.8,162.5 L306.4,162.5 L307.0,162.5 L307.6,162.5 L308.2,162.5 L308.8,162.5 L309.4,162.4 L310.0,162.4 L310.6,162.4 L311.2,162.4 L311.8,162.4 L312.4,162.4 L313.0,162.4 L313.6,162.4 L314.2,162.3 L314.8,162.3 L315.4,162.3 L316.0,162.3 L316.6,162.3 L317.2,162.3 L317.8,162.3 L318.4,162.2 L319.0,162.2 L319.6,162.2 L320.2,162.2 L320.8,162.2 L321.4,162.2 L322.0,162.2 L322.6,162.1 L323.2,162.1 L323.8,162.1 L324.4,162.1 L325.0,162.1 L325.6,162.1 L326.2,162.0 L326.8,162.0 L327.4,162.0 L328.0,162.0 L328.6,162.0 L329.2,162.0 L329.8,161.9 L330.4,161.9 L331.0,161.9 L331.6,161.9 L332.2,161.9 L332.8,161.9 L333.4,161.8 L334.0,161.8 L334.6,161.8 L335.2,161.8 L335.8,161.8 L336.4,161.7 L337.0,161.7 L337.6,161.7 L338.2,161.7 L338.8,161.7 L339.4,161.6 L340.0,161.6 L340.6,161.6 L341.2,161.6 L341.8,161.5 L342.4,161.5 L343.0,161.5 L343.6,161.5 L344.2,161.5 L344.8,161.4 L345.4,161.4 L346.0,161.4 L346.6,161.4 L347.2,161.3 L347.8,161.3 L348.4,161.3 L349.0,161.3 L349.6,161.2 L350.2,161.2 L350.8,161.2 L351.4,161.2 L352.0,161.1 L352.6,161.1 L353.2,161.1 L353.8,161.1 L354.4,161.0 L355.0,161.0 L355.6,161.0 L356.2,161.0 L356.8,160.9 L357.4,160.9 L358.0,160.9 L358.6,160.9 L359.2,160.8 L359.8,160.8"/>
<path d="M44.2,197.2 L44.8,197.2 L45.4,197.2 L46.0,197.2 L46.6,197.2 L47.2,197.2 L47.8,197.2 L48.4,197.2 L49.0,197.2 L49.6,197.2 L50.2,197.2 L50.8,197.2 L51.4,197.2 L52.0,197.2 L52.6,197.2 L53.2,197.2 L53.8,197.2 L54.4,197.2 L55.0,197.2 L55.6,197.3 L56.2,197.3 L56.8,197.3 L57.4,197.3 L58.0,197.3 L58.6,197.3 L59.2,197.3 L59.8,197.3 L60.4,197.3 L61.0,197.3 L61.6,197.3 L62.2,197.3 L62.8,197.3 L63.4,197.3 L64.0,197.4 L64.6,197.4 L65.2,197.4 L65.8,197.4 L66.4,197.4 L67.0,197.4 L67.6,197.4 L68.2,197.4 L68.8,197.4 L69.4,197.4 L70.0,197.5 L70.6,197.5 L71.2,197.5 L71.8,197.5 L72.4,197.5 L73.0,197.5 L73.6,197.5 L74.2,197.5 L74.8,197.5 L75.4,197.6 L76.0,197.6 L76.6,197.6 L77.2,197.6 L77.8,197.6 L78.4,197.6 L79.0,197.6 L79.6,197.7 L80.2,197.7 L80.8,197.7 L81.4,197.7 L82.0,197.7 L82.6,197.7 L83.2,197.7 L83.8,197.8 L84.4,197.8 L85.0,197.8 L85.6,197.8 L86.2,197.8 L86.8,197.8 L87.4,197.8 L88.0,197.9 L88.6,197.9 L89.2,197.9 L89.8,197.9 L90.4,197.9 L91.0,197.9 L91.6,198.0 L92.2,198.0 L92.8,198.0 L93.4,198.0 L94.0,198.0 L94.6,198.0 L95.2,198.1 L95.8,198.1 L96.4,198.1 L97.0,198.1 L97.6,198.1 L98.2,198.1 L98.8,198.2 L99.4,198.2 L100.0,198.2 L100.6,198.2 L101.2,198.2 L101.8,198.3 L102.4,198.3 L103.0,198.3 L103.6,198.3 L104.2,198.4 L104.8,198.4 L105.4,198.4 L106.0,198.5 L106.6,198.5 L107.2,198.5 L107.8,198.6 L108.4,198.6 L109.0,198.7 L109.6,198.7 L110.2,198.7 L110.8,198.8 L111.4,198.8 L112.0,198.9 L112.6,198.9 L113.2,198.9 L113.8,199.0 L114.4,199.0 L115.0,199.1 L115.6,199.1 L116.2,199.2 L116.8,199.2 L117.4,199.2 L118.0,199.3 L118.6,199.3 L119.2,199.4 L119.8,199.4 L120.4,199.4 L121.0,199.5 L121.6,199.5 L122.2,199.6 L122.8,199.6 L123.4,199.6 L124.0,199.7 L124.6,199.7 L125.2,199.7 L125.8,199.7 L126.4,199.8 L127.0,199.8 L127.6,199.8 L128.2,199.9 L128.8,199.9 L129.4,199.9 L130.0,200.0 L130.6,200.0 L131.2,200.0 L131.8,200.0 L132.4,200.1 L133.0,200.1 L133.6,200.1 L134.2,200.1 L134.8,200.1 L135.4,200.1 L136.0,200.1 L136.6,200.1 L137.2,200.1 L137.8,200.1 L138.4,200.1 L139.0,200.1 L139.6,200.1 L140.2,200.1 L140.8,200.1 L141.4,200.1 L142.0,200.1 L142.6,200.1 L143.2,200.1 L143.8,200.1 L144.4,200.1 L145.0,200.1 L145.6,200.1 L146.2,200.0 L146.8,200.0 L147.4,199.9 L148.0,199.8 L148.6,199.7 L149.2,199.6 L149.8,199.5 L150.4,199.4 L151.0,199.2 L151.6,199.0 L152.2,198.8 L152.8,198.5 L153.4,198.2 L154.0,197.9 L154.6,197.6 L155.2,197.3 L155.8,197.0 L156.4,196.6 L157.0,196.2 L157.6,195.8 L158.2,195.4 L158.8,195.0 L159.4,194.8 L160.0,194.6 L160.6,194.5 L161.2,194.6 L161.8,194.7 L162.4,194.8 L163.0,195.0 L163.6,195.3 L164.2,195.5 L164.8,195.6 L165.4,195.7 L166.0,195.8 L166.6,195.7 L167.2,195.5 L167.8,195.3 L168.4,195.0 L169.0,194.7 L169.6,194.4 L170.2,194.2 L170.8,194.0 L171.4,193.9 L172.0,194.0 L172.6,194.2 L173.2,194.4 L173.8,194.7 L174.4,195.0 L175.0,195.3 L175.6,195.6 L176.2,195.9 L176.8,196.1 L177.4,196.2 L178.0,196.1 L178.6,196.0 L179.2,195.8 L179.8,195.6 L180.4,195.3 L181.0,195.0 L181.6,194.8 L182.2,194.6 L182.8,194.5 L183.4,194.6 L184.0,194.6 L184.6,194.8 L185.2,195.0 L185.8,195.3 L186.4,195.6 L187.0,195.9 L187.6,196.2 L188.2,196.5 L188.8,196.8 L189.4,197.1 L190.0,197.3 L190.6,197.4 L191.2,197.5 L191.8,197.4 L192.4,197.2 L193.0,197.0 L193.6,196.6 L194.2,196.2 L194.8,195.9 L195.4,195.5 L196.0,195.1 L196.6,194.9 L197.2,194.7 L197.8,194.6 L198.4,194.7 L199.0,194.9 L199.6,195.1 L200.2,195.4 L200.8,195.7 L201.4,196.0 L202.0,196.3 L202.6,196.5 L203.2,196.7 L203.8,196.7 L204.4,196.6 L205.0,196.3 L205.6,195.6 L206.2,194.9 L206.8,194.0 L207.4,193.1 L208.0,192.1 L208.6,190.9 L209.2,189.6 L209.8,188.4 L210.4,187.2 L211.0,186.2 L211.6,185.2 L212.2,184.2 L212.8,183.5 L213.4,183.1 L214.0,183.1 L214.6,183.4 L215.2,183.9 L215.8,184.6 L216.4,185.4 L217.0,186.3 L217.6,187.3 L218.2,188.3 L218.8,189.2 L219.4,190.0 L220.0,190.7 L220.6,191.3 L221.2,191.8 L221.8,192.1 L222.4,192.0 L223.0,191.6 L223.6,190.9 L224.2,190.0 L224.8,189.0 L225.4,188.0 L226.0,187.0 L226.6,185.9 L227.2,184.8 L227.8,183.6 L228.4,182.5 L229.0,181.5 L229.6,180.9 L230.2,180.7 L230.8,180.9 L231.4,181.4 L232.0,181.9 L232.6,182.6 L233.2,183.3 L233.8,184.1 L234.4,184.9 L235.0,185.7 L235.6,186.3 L236.2,186.4 L236.8,186.1 L237.4,185.4 L238.0,184.5 L238.6,183.5 L239.2,182.5 L239.8,181.5 L240.4,180.6 L241.0,179.6 L241.6,178.8 L242.2,178.2 L242.8,177.9 L243.4,178.1 L244.0,178.5 L244.6,179.1 L245.2,179.7 L245.8,180.4 L246.4,181.1 L247.0,181.8 L247.6,182.2 L248.2,182.3 L248.8,182.0 L249.4,181.3 L250.0,180.6 L250.6,179.9 L251.2,179.3 L251.8,178.6 L252.4,178.2 L253.0,178.0 L253.6,178.3 L254.2,179.0 L254.8,180.1 L255.4,181.3 L256.0,182.6 L256.6,183.9 L257.2,185.3 L257.8,186.8 L258.4,188.1 L259.0,189.2 L259.6,190.1 L260.2,190.9 L260.8,191.7 L261.4,192.4 L262.0,193.0 L262.6,193.6 L263.2,194.1 L263.8,194.5 L264.4,194.8 L265.0,195.1 L265.6,195.4 L266.2,195.7 L266.8,195.9 L267.4,196.2 L268.0,196.4 L268.6,196.6 L269.2,196.8 L269.8,197.0 L270.4,197.2 L271.0,197.3 L271.6,197.4 L272.2,197.6 L272.8,197.7 L273.4,197.7 L274.0,197.8 L274.6,197.9 L275.2,197.9 L275.8,198.0 L276.4,198.1 L277.0,198.1 L277.6,198.2 L278.2,198.2 L278.8,198.3 L279.4,198.3 L280.0,198.4 L280.6,198.4 L281.2,198.5 L281.8,198.5 L282.4,198.6 L283.0,198.6 L283.6,198.6 L284.2,198.7 L284.8,198.7 L285.4,198.7 L286.0,198.7 L286.6,198.7 L287.2,198.8 L287.8,198.8 L288.4,198.8 L289.0,198.8 L289.6,198.8 L290.2,198.8 L290.8,198.8 L291.4,198.8 L292.0,198.8 L292.6,198.8 L293.2,198.8 L293.8,198.8 L294.4,198.8 L295.0,198.8 L295.6,198.8 L296.2,198.8 L296.8,198.8 L297.4,198.8 L298.0,198.8 L298.6,198.8 L299.2,198.8 L299.8,198.8 L300.4,198.8 L301.0,198.7 L301.6,198.7 L302.2,198.7 L302.8,198.7 L303.4,198.7 L304.0,198.7 L304.6,198.7 L305.2,198.7 L305.8,198.7 L306.4,198.7 L307.0,198.7 L307.6,198.7 L308.2,198.7 L308.8,198.7 L309.4,198.7 L310.0,198.6 L310.6,198.6 L311.2,198.6 L311.8,198.6 L312.4,198.6 L313.0,198.6 L313.6,198.6 L314.2,198.6 L314.8,198.6 L315.4,198.6 L316.0,198.6 L316.6,198.6 L317.2,198.5 L317.8,198.5 L318.4,198.5 L319.0,198.5 L319.6,198.5 L320.2,198.5 L320.8,198.5 L321.4,198.5 L322.0,198.5 L322.6,198.5 L323.2,198.4 L323.8,198.4 L324.4,198.4 L325.0,198.4 L325.6,198.4 L326.2,198.4 L326.8,198.3 L327.4,198.3 L328.0,198.3 L328.6,198.3 L329.2,198.3 L329.8,198.3 L330.4,198.2 L331.0,198.2 L331.6,198.2 L332.2,198.2 L332.8,198.2 L333.4,198.1 L334.0,198.1 L334.6,198.1 L335.2,198.1 L335.8,198.0 L336.4,198.0 L337.0,198.0 L337.6,198.0 L338.2,197.9 L338.8,197.9 L339.4,197.9 L340.0,197.8 L340.6,197.8 L341.2,197.8 L341.8,197.8 L342.4,197.7 L343.0,197.7 L343.6,197.7 L344.2,197.6 L344.8,197.6 L345.4,197.6 L346.0,197.5 L346.6,197.5 L347.2,197.5 L347.8,197.4 L348.4,197.4 L349.0,197.4 L349.6,197.3 L350.2,197.3 L350.8,197.3 L351.4,197.2 L352.0,197.2 L352.6,197.2 L353.2,197.1 L353.8,197.1 L354.4,197.1 L355.0,197.0 L355.6,197.0 L356.2,196.9 L356.8,196.9 L357.4,196.9 L358.0,196.8 L358.6,196.8 L359.2,196.8 L359.8,196.7"/>
<path d="M394.3,48.9 L394.9,48.9 L395.5,48.9 L396.1,48.9 L396.7,49.0 L397.3,49.0 L397.9,49.0 L398.5,49.0 L399.1,49.0 L399.7,49.0 L400.3,49.0 L400.9,49.0 L401.5,49.1 L402.1,49.1 L402.7,49.1 L403.3,49.1 L403.9,49.1 L404.5,49.1 L405.1,49.1 L405.7,49.1 L406.3,49.2 L406.9,49.2 L407.5,49.2 L408.1,49.2 L408.7,49.2 L409.3,49.2 L409.9,49.2 L410.5,49.3 L411.1,49.3 L411.7,49.3 L412.3,49.3 L412.9,49.3 L413.5,49.3 L414.1,49.3 L414.7,49.3 L415.3,49.4 L415.9,49.4 L416.5,49.4 L417.1,49.4 L417.7,49.4 L418.3,49.4 L418.9,49.4 L419.5,49.5 L420.1,49.5 L420.7,49.5 L421.3,49.5 L421.9,49.5 L422.5,49.5 L423.1,49.5 L423.7,49.6 L424.3,49.6 L424.9,49.6 L425.5,49.6 L426.1,49.6 L426.7,49.6 L427.3,49.6 L427.9,49.7 L428.5,49.7 L429.1,49.7 L429.7,49.7 L430.3,49.7 L430.9,49.7 L431.5,49.7 L432.1,49.8 L432.7,49.8 L433.3,49.8 L433.9,49.8 L434.5,49.8 L435.1,49.8 L435.7,49.8 L436.3,49.9 L436.9,49.9 L437.5,49.9 L438.1,49.9 L438.7,49.9 L439.3,49.9 L439.9,49.9 L440.5,50.0 L441.1,50.0 L441.7,50.0 L442.3,50.0 L442.9,50.0 L443.5,50.0 L444.1,50.1 L444.7,50.1 L445.3,50.1 L445.9,50.1 L446.5,50.1 L447.1,50.1 L447.7,50.1 L448.3,50.2 L448.9,50.2 L449.5,50.2 L450.1,50.2 L450.7,50.2 L451.3,50.2 L451.9,50.3 L452.5,50.3 L453.1,50.3 L453.7,50.3 L454.3,50.3 L454.9,50.3 L455.5,50.4 L456.1,50.4 L456.7,50.4 L457.3,50.4 L457.9,50.4 L458.5,50.5 L459.1,50.5 L459.7,50.5 L460.3,50.5 L460.9,50.5 L461.5,50.6 L462.1,50.6 L462.7,50.6 L463.3,50.6 L463.9,50.6 L464.5,50.7 L465.1,50.7 L465.7,50.7 L466.3,50.7 L466.9,50.8 L467.5,50.8 L468.1,50.8 L468.7,50.8 L469.3,50.8 L469.9,50.9 L470.5,50.9 L471.1,50.9 L471.7,50.9 L472.3,50.9 L472.9,51.0 L473.5,51.0 L474.1,51.0 L474.7,51.0 L475.3,51.0 L475.9,51.1 L476.5,51.1 L477.1,51.1 L477.7,51.1 L478.3,51.1 L478.9,51.2 L479.5,51.2 L480.1,51.2 L480.7,51.2 L481.3,51.2 L481.9,51.2 L482.5,51.3 L483.1,51.3 L483.7,51.3 L484.3,51.3 L484.9,51.3 L485.5,51.3 L486.1,51.3 L486.7,51.3 L487.3,51.3 L487.9,51.4 L488.5,51.4 L489.1,51.4 L489.7,51.4 L490.3,51.4 L490.9,51.4 L491.5,51.4 L492.1,51.4 L492.7,51.4 L493.3,51.4 L493.9,51.4 L494.5,51.4 L495.1,51.4 L495.7,51.3 L496.3,51.2 L496.9,51.1 L497.5,51.0 L498.1,50.8 L498.7,50.7 L499.3,50.5 L499.9,50.3 L500.5,50.1 L501.1,49.8 L501.7,49.5 L502.3,49.1 L502.9,48.5 L503.5,47.8 L504.1,46.9 L504.7,46.0 L505.3,45.1 L505.9,44.1 L506.5,43.1 L507.1,42.1 L507.7,41.0 L508.3,40.0 L508.9,39.2 L509.5,38.5 L510.1,38.0 L510.7,37.5 L511.3,37.2 L511.9,37.1 L512.5,37.3 L513.1,37.8 L513.7,38.5 L514.3,39.3 L514.9,40.0 L515.5,40.5 L516.1,40.7 L516.7,40.5 L517.3,40.1 L517.9,39.4 L518.5,38.7 L519.1,37.9 L519.7,37.1 L520.3,36.4 L520.9,35.9 L521.5,35.6 L522.1,35.6 L522.7,35.9 L523.3,36.5 L523.9,37.4 L524.5,38.3 L525.1,39.4 L525.7,40.3 L526.3,41.0 L526.9,41.5 L527.5,41.7 L528.1,41.4 L528.7,40.9 L529.3,40.1 L529.9,39.1 L530.5,38.1 L531.1,37.2 L531.7,36.3 L532.3,35.6 L532.9,35.2 L533.5,35.2 L534.1,35.5 L534.7,36.2 L535.3,37.1 L535.9,38.2 L536.5,39.4 L537.1,40.5 L537.7,41.5 L538.3,42.2 L538.9,42.6 L539.5,42.6 L540.1,42.3 L540.7,41.7 L541.3,40.9 L541.9,40.0 L542.5,38.9 L543.1,37.8 L543.7,36.7 L544.3,35.7 L544.9,34.8 L545.5,34.1 L546.1,33.7 L546.7,33.7 L547.3,34.0 L547.9,34.6 L548.5,35.5 L549.1,36.4 L549.7,37.4 L550.3,38.4 L550.9,39.6 L551.5,40.9 L552.1,42.0 L552.7,42.9 L553.3,43.5 L553.9,43.9 L554.5,44.2 L555.1,44.5 L555.7,44.7 L556.3,44.9 L556.9,45.1 L557.5,45.3 L558.1,45.5 L558.7,45.7 L559.3,45.9 L559.9,46.1 L560.5,46.3 L561.1,46.5 L561.7,46.6 L562.3,46.7 L562.9,46.8 L563.5,46.8 L564.1,46.8 L564.7,46.8 L565.3,46.8 L565.9,46.8 L566.5,46.8 L567.1,46.9 L567.7,47.1 L568.3,47.4 L568.9,47.7 L569.5,48.1 L570.1,48.6 L570.7,49.1 L571.3,49.6 L571.9,50.0 L572.5,50.3 L573.1,50.6 L573.7,50.7 L574.3,50.9 L574.9,51.0 L575.5,51.1 L576.1,51.1 L576.7,51.2 L577.3,51.3 L577.9,51.3 L578.5,51.3 L579.1,51.3 L579.7,51.4 L580.3,51.4 L580.9,51.4 L581.5,51.4 L582.1,51.4 L582.7,51.4 L583.3,51.4 L583.9,51.4 L584.5,51.3 L585.1,51.2 L585.7,51.1 L586.3,51.0 L586.9,50.8 L587.5,50.7 L588.1,50.5 L588.7,50.4 L589.3,50.2 L589.9,50.0 L590.5,49.8 L591.1,49.5 L591.7,49.2 L592.3,48.9 L592.9,48.5 L593.5,48.2 L594.1,47.8 L594.7,47.6 L595.3,47.3 L595.9,47.1 L596.5,47.0 L597.1,47.1 L597.7,47.2 L598.3,47.4 L598.9,47.7 L599.5,48.1 L600.1,48.3 L600.7,48.6 L601.3,48.8 L601.9,49.0 L602.5,49.1 L603.1,49.3 L603.7,49.4 L604.3,49.5 L604.9,49.4 L605.5,49.2 L606.1,48.9 L606.7,48.6 L607.3,48.2 L607.9,47.8 L608.5,47.5 L609.1,47.3 L609.7,47.0 L610.3,46.8 L610.9,46.6 L611.5,46.4 L612.1,46.3 L612.7,46.2 L613.3,46.3 L613.9,46.4 L614.5,46.6 L615.1,46.8 L615.7,47.1 L616.3,47.4 L616.9,47.7 L617.5,48.0 L618.1,48.2 L618.7,48.3 L619.3,48.4 L619.9,48.3 L620.5,48.2 L621.1,48.0 L621.7,47.7 L622.3,47.4 L622.9,47.1 L623.5,46.8 L624.1,46.4 L624.7,46.1 L625.3,45.9 L625.9,45.6 L626.5,45.5 L627.1,45.4 L627.7,45.5 L628.3,45.6 L628.9,45.8 L629.5,46.1 L630.1,46.3 L630.7,46.6 L631.3,46.8 L631.9,47.0 L632.5,47.1 L633.1,47.2 L633.7,47.1 L634.3,47.0 L634.9,46.7 L635.5,46.5 L636.1,46.2 L636.7,45.9 L637.3,45.6 L637.9,45.4 L638.5,45.1 L639.1,44.9 L639.7,44.8 L640.3,44.7 L640.9,44.7 L641.5,44.8 L642.1,45.0 L642.7,45.1 L643.3,45.4 L643.9,45.6 L644.5,45.9 L645.1,46.1 L645.7,46.4 L646.3,46.7 L646.9,47.0 L647.5,47.2 L648.1,47.4 L648.7,47.6 L649.3,47.7 L649.9,47.9 L650.5,48.0 L651.1,48.1 L651.7,48.2 L652.3,48.3 L652.9,48.4 L653.5,48.6 L654.1,48.7 L654.7,48.8 L655.3,48.9 L655.9,49.0 L656.5,49.1 L657.1,49.2 L657.7,49.2 L658.3,49.3 L658.9,49.4 L659.5,49.5 L660.1,49.5 L660.7,49.6 L661.3,49.6 L661.9,49.6 L662.5,49.7 L663.1,49.7 L663.7,49.7 L664.3,49.7 L664.9,49.7 L665.5,49.7 L666.1,49.7 L666.7,49.7 L667.3,49.7 L667.9,49.7 L668.5,49.7 L669.1,49.7 L669.7,49.7 L670.3,49.7 L670.9,49.7 L671.5,49.7 L672.1,49.7 L672.7,49.7 L673.3,49.7 L673.9,49.7 L674.5,49.7 L675.1,49.7 L675.7,49.7 L676.3,49.7 L676.9,49.7 L677.5,49.7 L678.1,49.7 L678.7,49.7 L679.3,49.7 L679.9,49.7 L680.5,49.7 L681.1,49.7 L681.7,49.7 L682.3,49.7 L682.9,49.7 L683.5,49.7 L684.1,49.7 L684.7,49.7 L685.3,49.7 L685.9,49.7 L686.5,49.7 L687.1,49.7 L687.7,49.7 L688.3,49.7 L688.9,49.7 L689.5,49.7 L690.1,49.7 L690.7,49.7 L691.3,49.7 L691.9,49.7 L692.5,49.7 L693.1,49.7 L693.7,49.7"/>
<path d="M393.5,105.1 L394.1,105.1 L394.7,105.1 L395.3,105.1 L395.9,105.1 L396.5,105.1 L397.1,105.2 L397.7,105.2 L398.3,105.2 L398.9,105.2 L399.5,105.2 L400.1,105.2 L400.7,105.2 L401.3,105.2 L401.9,105.2 L402.5,105.2 L403.1,105.3 L403.7,105.3 L404.3,105.3 L404.9,105.3 L405.5,105.3 L406.1,105.3 L406.7,105.3 L407.3,105.3 L407.9,105.3 L408.5,105.3 L409.1,105.4 L409.7,105.4 L410.3,105.4 L410.9,105.4 L411.5,105.4 L412.1,105.4 L412.7,105.4 L413.3,105.4 L413.9,105.4 L414.5,105.5 L415.1,105.5 L415.7,105.5 L416.3,105.5 L416.9,105.5 L417.5,105.5 L418.1,105.5 L418.7,105.5 L419.3,105.6 L419.9,105.6 L420.5,105.6 L421.1,105.6 L421.7,105.6 L422.3,105.6 L422.9,105.6 L423.5,105.6 L424.1,105.7 L424.7,105.7 L425.3,105.7 L425.9,105.7 L426.5,105.7 L427.1,105.7 L427.7,105.7 L428.3,105.7 L428.9,105.8 L429.5,105.8 L430.1,105.8 L430.7,105.8 L431.3,105.8 L431.9,105.8 L432.5,105.8 L433.1,105.8 L433.7,105.9 L434.3,105.9 L434.9,105.9 L435.5,105.9 L436.1,105.9 L436.7,105.9 L437.3,105.9 L437.9,106.0 L438.5,106.0 L439.1,106.0 L439.7,106.0 L440.3,106.0 L440.9,106.0 L441.5,106.0 L442.1,106.1 L442.7,106.1 L443.3,106.1 L443.9,106.1 L444.5,106.1 L445.1,106.1 L445.7,106.2 L446.3,106.2 L446.9,106.2 L447.5,106.2 L448.1,106.2 L448.7,106.3 L449.3,106.3 L449.9,106.3 L450.5,106.3 L451.1,106.3 L451.7,106.4 L452.3,106.4 L452.9,106.4 L453.5,106.4 L454.1,106.5 L454.7,106.5 L455.3,106.5 L455.9,106.5 L456.5,106.5 L457.1,106.6 L457.7,106.6 L458.3,106.6 L458.9,106.6 L459.5,106.6 L460.1,106.6 L460.7,106.7 L461.3,106.7 L461.9,106.7 L462.5,106.7 L463.1,106.7 L463.7,106.7 L464.3,106.7 L464.9,106.8 L465.5,106.8 L466.1,106.8 L466.7,106.8 L467.3,106.8 L467.9,106.8 L468.5,106.8 L469.1,106.8 L469.7,106.8 L470.3,106.8 L470.9,106.8 L471.5,106.8 L472.1,106.7 L472.7,106.7 L473.3,106.6 L473.9,106.6 L474.5,106.5 L475.1,106.4 L475.7,106.4 L476.3,106.3 L476.9,106.2 L477.5,106.1 L478.1,106.0 L478.7,105.8 L479.3,105.6 L479.9,105.3 L480.5,104.9 L481.1,104.5 L481.7,104.0 L482.3,103.5 L482.9,103.0 L483.5,102.5 L484.1,101.9 L484.7,101.1 L485.3,100.3 L485.9,99.3 L486.5,98.3 L487.1,97.4 L487.7,96.4 L488.3,95.6 L488.9,94.6 L489.5,93.7 L490.1,92.9 L490.7,92.2 L491.3,91.9 L491.9,91.9 L492.5,92.1 L493.1,92.7 L493.7,93.3 L494.3,93.9 L494.9,94.5 L495.5,94.9 L496.1,95.1 L496.7,94.9 L497.3,94.4 L497.9,93.7 L498.5,92.9 L499.1,92.1 L499.7,91.4 L500.3,90.9 L500.9,90.6 L501.5,90.7 L502.1,91.1 L502.7,91.8 L503.3,92.6 L503.9,93.4 L504.5,94.3 L505.1,95.2 L505.7,95.9 L506.3,96.4 L506.9,96.6 L507.5,96.5 L508.1,96.0 L508.7,95.4 L509.3,94.5 L509.9,93.6 L510.5,92.6 L511.1,91.7 L511.7,90.9 L512.3,90.3 L512.9,90.0 L513.5,90.0 L514.1,90.4 L514.7,91.2 L515.3,92.1 L515.9,93.3 L516.5,94.5 L517.1,95.7 L517.7,96.7 L518.3,97.6 L518.9,98.1 L519.5,98.2 L520.1,98.0 L520.7,97.3 L521.3,96.4 L521.9,95.2 L522.5,93.9 L523.1,92.5 L523.7,91.2 L524.3,90.0 L524.9,89.0 L525.5,88.3 L526.1,88.0 L526.7,88.1 L527.3,88.5 L527.9,89.3 L528.5,90.2 L529.1,91.2 L529.7,92.3 L530.3,93.6 L530.9,94.8 L531.5,96.0 L532.1,97.0 L532.7,98.0 L533.3,98.7 L533.9,99.3 L534.5,99.7 L535.1,100.0 L535.7,100.3 L536.3,100.5 L536.9,100.7 L537.5,100.9 L538.1,101.1 L538.7,101.3 L539.3,101.4 L539.9,101.6 L540.5,101.7 L541.1,101.9 L541.7,102.1 L542.3,102.2 L542.9,102.3 L543.5,102.5 L544.1,102.6 L544.7,102.7 L545.3,102.8 L545.9,103.0 L546.5,103.1 L547.1,103.3 L547.7,103.4 L548.3,103.6 L548.9,103.9 L549.5,104.2 L550.1,104.4 L550.7,104.7 L551.3,105.0 L551.9,105.3 L552.5,105.5 L553.1,105.7 L553.7,105.8 L554.3,105.9 L554.9,105.9 L555.5,105.8 L556.1,105.6 L556.7,105.4 L557.3,105.2 L557.9,105.0 L558.5,104.7 L559.1,104.4 L559.7,104.1 L560.3,103.7 L560.9,103.3 L561.5,102.9 L562.1,102.5 L562.7,102.3 L563.3,102.2 L563.9,102.3 L564.5,102.5 L565.1,102.9 L565.7,103.4 L566.3,103.8 L566.9,104.2 L567.5,104.6 L568.1,104.9 L568.7,105.2 L569.3,105.5 L569.9,105.7 L570.5,105.8 L571.1,105.8 L571.7,105.7 L572.3,105.4 L572.9,105.0 L573.5,104.5 L574.1,104.1 L574.7,103.7 L575.3,103.4 L575.9,103.0 L576.5,102.7 L577.1,102.4 L577.7,102.2 L578.3,102.0 L578.9,101.9 L579.5,101.9 L580.1,102.0 L580.7,102.2 L581.3,102.6 L581.9,102.9 L582.5,103.2 L583.1,103.5 L583.7,103.8 L584.3,104.1 L584.9,104.3 L585.5,104.5 L586.1,104.5 L586.7,104.5 L587.3,104.2 L587.9,103.9 L588.5,103.5 L589.1,103.0 L589.7,102.7 L590.3,102.4 L590.9,102.1 L591.5,101.8 L592.1,101.6 L592.7,101.4 L593.3,101.2 L593.9,101.1 L594.5,101.0 L595.1,101.1 L595.7,101.3 L596.3,101.6 L596.9,101.8 L597.5,102.0 L598.1,102.1 L598.7,102.2 L599.3,102.2 L599.9,102.3 L600.5,102.3 L601.1,102.2 L601.7,102.0 L602.3,101.7 L602.9,101.3 L603.5,101.0 L604.1,100.8 L604.7,100.5 L605.3,100.3 L605.9,100.1 L606.5,100.1 L607.1,100.1 L607.7,100.3 L608.3,100.6 L608.9,100.9 L609.5,101.3 L610.1,101.5 L610.7,101.8 L611.3,102.0 L611.9,102.2 L612.5,102.4 L613.1,102.6 L613.7,102.8 L614.3,103.0 L614.9,103.2 L615.5,103.4 L616.1,103.7 L616.7,103.9 L617.3,104.1 L617.9,104.3 L618.5,104.5 L619.1,104.6 L619.7,104.7 L620.3,104.8 L620.9,104.9 L621.5,105.0 L622.1,105.0 L622.7,105.1 L623.3,105.1 L623.9,105.2 L624.5,105.2 L625.1,105.3 L625.7,105.3 L626.3,105.4 L626.9,105.4 L627.5,105.5 L628.1,105.5 L628.7,105.5 L629.3,105.6 L629.9,105.6 L630.5,105.6 L631.1,105.7 L631.7,105.7 L632.3,105.7 L632.9,105.8 L633.5,105.8 L634.1,105.8 L634.7,105.8 L635.3,105.8 L635.9,105.9 L636.5,105.9 L637.1,105.9 L637.7,105.9 L638.3,105.9 L638.9,105.9 L639.5,105.9 L640.1,105.9 L640.7,105.9 L641.3,105.9 L641.9,105.9 L642.5,105.9 L643.1,105.9 L643.7,105.9 L644.3,105.9 L644.9,105.9 L645.5,105.9 L646.1,105.9 L646.7,105.9 L647.3,105.9 L647.9,105.9 L648.5,105.9 L649.1,105.9 L649.7,105.9 L650.3,105.9 L650.9,105.9 L651.5,105.9 L652.1,105.9 L652.7,105.9 L653.3,105.9 L653.9,105.9 L654.5,105.9 L655.1,105.9 L655.7,105.9 L656.3,105.9 L656.9,105.9 L657.5,105.9 L658.1,105.9 L658.7,105.9 L659.3,105.9 L659.9,105.9 L660.5,105.9 L661.1,105.9 L661.7,105.9 L662.3,105.9 L662.9,105.9 L663.5,105.9 L664.1,105.9 L664.7,105.9 L665.3,105.9 L665.9,105.9 L666.5,105.9 L667.1,105.9 L667.7,105.9 L668.3,105.9 L668.9,105.9 L669.5,105.9 L670.1,105.9 L670.7,105.9 L671.3,105.9 L671.9,105.9 L672.5,105.9 L673.1,105.9 L673.7,105.9 L674.3,105.9 L674.9,105.9 L675.5,105.9 L676.1,105.9 L676.7,105.9 L677.3,105.9 L677.9,105.9 L678.5,105.9 L679.1,105.9 L679.7,105.9 L680.3,105.9 L680.9,105.9 L681.5,105.9 L682.1,105.9 L682.7,105.9 L683.3,105.9 L683.9,105.9 L684.5,105.9 L685.1,105.9 L685.7,105.9 L686.3,105.9 L686.9,105.9 L687.5,105.9 L688.1,105.9 L688.7,105.9 L689.3,105.9 L689.9,105.9 L690.5,105.9 L691.1,105.9 L691.7,105.9 L692.3,105.9 L692.9,105.9 L693.5,105.9"/>
<path d="M392.8,156.4 L393.4,156.4 L394.0,156.4 L394.6,156.5 L395.2,156.5 L395.8,156.5 L396.4,156.5 L397.0,156.5 L397.6,156.5 L398.2,156.6 L398.8,156.6 L399.4,156.6 L400.0,156.6 L400.6,156.6 L401.2,156.7 L401.8,156.7 L402.4,156.7 L403.0,156.7 L403.6,156.7 L404.2,156.8 L404.8,156.8 L405.4,156.8 L406.0,156.8 L406.6,156.8 L407.2,156.8 L407.8,156.9 L408.4,156.9 L409.0,156.9 L409.6,156.9 L410.2,156.9 L410.8,156.9 L411.4,157.0 L412.0,157.0 L412.6,157.0 L413.2,157.0 L413.8,157.0 L414.4,157.1 L415.0,157.1 L415.6,157.1 L416.2,157.1 L416.8,157.1 L417.4,157.1 L418.0,157.2 L418.6,157.2 L419.2,157.2 L419.8,157.2 L420.4,157.2 L421.0,157.2 L421.6,157.3 L422.2,157.3 L422.8,157.3 L423.4,157.3 L424.0,157.3 L424.6,157.3 L425.2,157.4 L425.8,157.4 L426.4,157.4 L427.0,157.4 L427.6,157.4 L428.2,157.4 L428.8,157.5 L429.4,157.5 L430.0,157.5 L430.6,157.5 L431.2,157.5 L431.8,157.6 L432.4,157.6 L433.0,157.6 L433.6,157.6 L434.2,157.6 L434.8,157.6 L435.4,157.7 L436.0,157.7 L436.6,157.7 L437.2,157.7 L437.8,157.7 L438.4,157.8 L439.0,157.8 L439.6,157.8 L440.2,157.8 L440.8,157.9 L441.4,157.9 L442.0,157.9 L442.6,157.9 L443.2,157.9 L443.8,158.0 L444.4,158.0 L445.0,158.0 L445.6,158.0 L446.2,158.0 L446.8,158.1 L447.4,158.1 L448.0,158.1 L448.6,158.1 L449.2,158.1 L449.8,158.2 L450.4,158.2 L451.0,158.2 L451.6,158.2 L452.2,158.2 L452.8,158.2 L453.4,158.3 L454.0,158.3 L454.6,158.3 L455.2,158.3 L455.8,158.3 L456.4,158.3 L457.0,158.3 L457.6,158.3 L458.2,158.3 L458.8,158.4 L459.4,158.4 L460.0,158.4 L460.6,158.4 L461.2,158.4 L461.8,158.4 L462.4,158.4 L463.0,158.4 L463.6,158.4 L464.2,158.4 L464.8,158.4 L465.4,158.3 L466.0,158.1 L466.6,157.9 L467.2,157.6 L467.8,157.3 L468.4,157.0 L469.0,156.6 L469.6,156.1 L470.2,155.6 L470.8,155.1 L471.4,154.5 L472.0,153.8 L472.6,152.8 L473.2,151.5 L473.8,150.0 L474.4,148.5 L475.0,147.1 L475.6,145.9 L476.2,144.8 L476.8,143.8 L477.4,142.9 L478.0,142.2 L478.6,142.0 L479.2,142.1 L479.8,142.7 L480.4,143.6 L481.0,144.6 L481.6,145.5 L482.2,146.2 L482.8,146.5 L483.4,146.4 L484.0,146.0 L484.6,145.3 L485.2,144.4 L485.8,143.4 L486.4,142.5 L487.0,141.6 L487.6,140.9 L488.2,140.5 L488.8,140.5 L489.4,140.9 L490.0,141.7 L490.6,142.8 L491.2,144.1 L491.8,145.4 L492.4,146.6 L493.0,147.5 L493.6,148.1 L494.2,148.3 L494.8,148.1 L495.4,147.4 L496.0,146.5 L496.6,145.4 L497.2,144.1 L497.8,142.9 L498.4,141.8 L499.0,140.9 L499.6,140.2 L500.2,140.0 L500.8,140.2 L501.4,140.9 L502.0,142.0 L502.6,143.4 L503.2,144.9 L503.8,146.4 L504.4,147.7 L505.0,148.7 L505.6,149.4 L506.2,149.5 L506.8,149.2 L507.4,148.6 L508.0,147.7 L508.6,146.6 L509.2,145.3 L509.8,144.0 L510.4,142.7 L511.0,141.5 L511.6,140.4 L512.2,139.6 L512.8,139.0 L513.4,138.7 L514.0,138.8 L514.6,139.2 L515.2,139.9 L515.8,140.8 L516.4,141.8 L517.0,142.9 L517.6,144.0 L518.2,145.1 L518.8,146.2 L519.4,147.0 L520.0,147.8 L520.6,148.3 L521.2,148.8 L521.8,149.3 L522.4,149.7 L523.0,150.1 L523.6,150.5 L524.2,150.9 L524.8,151.2 L525.4,151.5 L526.0,151.7 L526.6,152.0 L527.2,152.1 L527.8,152.3 L528.4,152.4 L529.0,152.5 L529.6,152.7 L530.2,152.8 L530.8,152.9 L531.4,153.0 L532.0,153.1 L532.6,153.1 L533.2,153.2 L533.8,153.3 L534.4,153.3 L535.0,153.4 L535.6,153.4 L536.2,153.4 L536.8,153.3 L537.4,153.2 L538.0,153.1 L538.6,152.9 L539.2,152.8 L539.8,152.7 L540.4,152.8 L541.0,152.8 L541.6,153.0 L542.2,153.2 L542.8,153.4 L543.4,153.7 L544.0,154.0 L544.6,154.3 L545.2,154.6 L545.8,154.9 L546.4,155.2 L547.0,155.5 L547.6,155.8 L548.2,156.1 L548.8,156.3 L549.4,156.5 L550.0,156.6 L550.6,156.7 L551.2,156.7 L551.8,156.6 L552.4,156.4 L553.0,156.2 L553.6,155.9 L554.2,155.6 L554.8,155.2 L555.4,154.9 L556.0,154.5 L556.6,154.2 L557.2,153.9 L557.8,153.7 L558.4,153.5 L559.0,153.4 L559.6,153.5 L560.2,153.6 L560.8,153.8 L561.4,154.0 L562.0,154.4 L562.6,154.7 L563.2,155.0 L563.8,155.3 L564.4,155.6 L565.0,155.7 L565.6,155.8 L566.2,155.8 L566.8,155.7 L567.4,155.4 L568.0,155.1 L568.6,154.6 L569.2,154.1 L569.8,153.6 L570.4,153.1 L571.0,152.7 L571.6,152.3 L572.2,152.0 L572.8,151.8 L573.4,151.7 L574.0,151.8 L574.6,152.0 L575.2,152.3 L575.8,152.6 L576.4,153.0 L577.0,153.3 L577.6,153.6 L578.2,153.9 L578.8,154.1 L579.4,154.2 L580.0,154.1 L580.6,153.9 L581.2,153.6 L581.8,153.2 L582.4,152.8 L583.0,152.3 L583.6,151.9 L584.2,151.5 L584.8,151.1 L585.4,150.8 L586.0,150.6 L586.6,150.5 L587.2,150.6 L587.8,150.8 L588.4,151.0 L589.0,151.4 L589.6,151.8 L590.2,152.2 L590.8,152.6 L591.4,153.0 L592.0,153.5 L592.6,153.9 L593.2,154.2 L593.8,154.5 L594.4,154.7 L595.0,154.9 L595.6,155.0 L596.2,155.1 L596.8,155.3 L597.4,155.4 L598.0,155.6 L598.6,155.7 L599.2,155.8 L599.8,155.9 L600.4,156.1 L601.0,156.2 L601.6,156.3 L602.2,156.3 L602.8,156.4 L603.4,156.5 L604.0,156.6 L604.6,156.6 L605.2,156.6 L605.8,156.7 L606.4,156.7 L607.0,156.7 L607.6,156.7 L608.2,156.7 L608.8,156.7 L609.4,156.7 L610.0,156.7 L610.6,156.7 L611.2,156.7 L611.8,156.7 L612.4,156.7 L613.0,156.7 L613.6,156.7 L614.2,156.7 L614.8,156.7 L615.4,156.7 L616.0,156.7 L616.6,156.6 L617.2,156.6 L617.8,156.6 L618.4,156.6 L619.0,156.6 L619.6,156.6 L620.2,156.6 L620.8,156.6 L621.4,156.6 L622.0,156.6 L622.6,156.6 L623.2,156.6 L623.8,156.6 L624.4,156.6 L625.0,156.5 L625.6,156.5 L626.2,156.5 L626.8,156.5 L627.4,156.5 L628.0,156.5 L628.6,156.5 L629.2,156.5 L629.8,156.5 L630.4,156.5 L631.0,156.5 L631.6,156.4 L632.2,156.4 L632.8,156.4 L633.4,156.4 L634.0,156.4 L634.6,156.4 L635.2,156.4 L635.8,156.4 L636.4,156.4 L637.0,156.4 L637.6,156.4 L638.2,156.3 L638.8,156.3 L639.4,156.3 L640.0,156.3 L640.6,156.3 L641.2,156.3 L641.8,156.3 L642.4,156.3 L643.0,156.3 L643.6,156.3 L644.2,156.3 L644.8,156.3 L645.4,156.2 L646.0,156.2 L646.6,156.2 L647.2,156.2 L647.8,156.2 L648.4,156.2 L649.0,156.2 L649.6,156.2 L650.2,156.2 L650.8,156.2 L651.4,156.2 L652.0,156.2 L652.6,156.2 L653.2,156.2 L653.8,156.2 L654.4,156.2 L655.0,156.2 L655.6,156.2 L656.2,156.1 L656.8,156.1 L657.4,156.1 L658.0,156.1 L658.6,156.1 L659.2,156.1 L659.8,156.1 L660.4,156.1 L661.0,156.1 L661.6,156.1 L662.2,156.1 L662.8,156.1 L663.4,156.1 L664.0,156.1 L664.6,156.1 L665.2,156.1 L665.8,156.1 L666.4,156.1 L667.0,156.1 L667.6,156.1 L668.2,156.1 L668.8,156.0 L669.4,156.0 L670.0,156.0 L670.6,156.0 L671.2,156.0 L671.8,156.0 L672.4,156.0 L673.0,156.0 L673.6,156.0 L674.2,156.0 L674.8,156.0 L675.4,156.0 L676.0,156.0 L676.6,156.0 L677.2,156.0 L677.8,156.0 L678.4,156.0 L679.0,156.0 L679.6,156.0 L680.2,156.0 L680.8,156.0 L681.4,156.0 L682.0,156.0 L682.6,156.0 L683.2,156.0 L683.8,156.0 L684.4,155.9 L685.0,155.9 L685.6,155.9 L686.2,155.9 L686.8,155.9 L687.4,155.9 L688.0,155.9 L688.6,155.9 L689.2,155.9 L689.8,155.9 L690.4,155.9 L691.0,155.9 L691.6,155.9 L692.2,155.9 L692.8,155.9 L693.4,155.9 L694.0,155.9"/>
<path d="M393.5,210.9 L394.1,210.9 L394.7,211.0 L395.3,211.0 L395.9,211.0 L396.5,211.0 L397.1,211.1 L397.7,211.1 L398.3,211.1 L398.9,211.1 L399.5,211.2 L400.1,211.2 L400.7,211.2 L401.3,211.2 L401.9,211.3 L402.5,211.3 L403.1,211.3 L403.7,211.3 L404.3,211.4 L404.9,211.4 L405.5,211.4 L406.1,211.4 L406.7,211.5 L407.3,211.5 L407.9,211.5 L408.5,211.5 L409.1,211.5 L409.7,211.6 L410.3,211.6 L410.9,211.6 L411.5,211.6 L412.1,211.7 L412.7,211.7 L413.3,211.7 L413.9,211.7 L414.5,211.8 L415.1,211.8 L415.7,211.8 L416.3,211.8 L416.9,211.9 L417.5,211.9 L418.1,211.9 L418.7,211.9 L419.3,212.0 L419.9,212.0 L420.5,212.0 L421.1,212.0 L421.7,212.1 L422.3,212.1 L422.9,212.1 L423.5,212.2 L424.1,212.2 L424.7,212.2 L425.3,212.2 L425.9,212.3 L426.5,212.3 L427.1,212.3 L427.7,212.4 L428.3,212.4 L428.9,212.4 L429.5,212.5 L430.1,212.5 L430.7,212.5 L431.3,212.6 L431.9,212.6 L432.5,212.6 L433.1,212.7 L433.7,212.7 L434.3,212.7 L434.9,212.8 L435.5,212.8 L436.1,212.8 L436.7,212.9 L437.3,212.9 L437.9,212.9 L438.5,212.9 L439.1,213.0 L439.7,213.0 L440.3,213.0 L440.9,213.1 L441.5,213.1 L442.1,213.1 L442.7,213.1 L443.3,213.2 L443.9,213.2 L444.5,213.2 L445.1,213.2 L445.7,213.2 L446.3,213.3 L446.9,213.3 L447.5,213.3 L448.1,213.3 L448.7,213.3 L449.3,213.3 L449.9,213.4 L450.5,213.4 L451.1,213.4 L451.7,213.4 L452.3,213.4 L452.9,213.4 L453.5,213.4 L454.1,213.4 L454.7,213.4 L455.3,213.3 L455.9,213.2 L456.5,213.0 L457.1,212.8 L457.7,212.6 L458.3,212.3 L458.9,212.0 L459.5,211.6 L460.1,211.2 L460.7,210.8 L461.3,210.1 L461.9,209.2 L462.5,208.1 L463.1,206.9 L463.7,205.6 L464.3,204.4 L464.9,203.2 L465.5,202.0 L466.1,200.6 L466.7,199.2 L467.3,197.9 L467.9,196.8 L468.5,195.9 L469.1,195.5 L469.7,195.6 L470.3,196.1 L470.9,196.7 L471.5,197.3 L472.1,197.7 L472.7,197.7 L473.3,197.4 L473.9,197.0 L474.5,196.5 L475.1,196.0 L475.7,195.4 L476.3,194.8 L476.9,194.3 L477.5,193.9 L478.1,193.7 L478.7,193.7 L479.3,194.1 L479.9,195.0 L480.5,196.2 L481.1,197.6 L481.7,198.8 L482.3,199.7 L482.9,200.1 L483.5,200.0 L484.1,199.6 L484.7,198.9 L485.3,198.0 L485.9,197.1 L486.5,196.1 L487.1,195.2 L487.7,194.5 L488.3,193.9 L488.9,193.7 L489.5,193.8 L490.1,194.3 L490.7,195.1 L491.3,196.2 L491.9,197.5 L492.5,198.7 L493.1,200.0 L493.7,201.1 L494.3,201.9 L494.9,202.4 L495.5,202.5 L496.1,202.2 L496.7,201.6 L497.3,200.7 L497.9,199.6 L498.5,198.4 L499.1,197.1 L499.7,195.9 L500.3,194.7 L500.9,193.6 L501.5,192.8 L502.1,192.2 L502.7,191.9 L503.3,192.1 L503.9,192.5 L504.5,193.3 L505.1,194.3 L505.7,195.4 L506.3,196.7 L506.9,197.8 L507.5,199.0 L508.1,199.9 L508.7,200.7 L509.3,201.2 L509.9,201.6 L510.5,202.0 L511.1,202.3 L511.7,202.6 L512.3,202.9 L512.9,203.1 L513.5,203.3 L514.1,203.5 L514.7,203.7 L515.3,203.9 L515.9,204.1 L516.5,204.3 L517.1,204.5 L517.7,204.6 L518.3,204.7 L518.9,204.7 L519.5,204.6 L520.1,204.4 L520.7,204.2 L521.3,203.9 L521.9,203.6 L522.5,203.3 L523.1,203.0 L523.7,202.8 L524.3,202.8 L524.9,202.9 L525.5,203.1 L526.1,203.6 L526.7,204.2 L527.3,204.9 L527.9,205.7 L528.5,206.5 L529.1,207.3 L529.7,208.1 L530.3,208.8 L530.9,209.4 L531.5,209.8 L532.1,210.1 L532.7,210.2 L533.3,210.1 L533.9,210.0 L534.5,209.8 L535.1,209.6 L535.7,209.3 L536.3,209.0 L536.9,208.7 L537.5,208.4 L538.1,208.1 L538.7,207.8 L539.3,207.5 L539.9,207.2 L540.5,207.0 L541.1,206.9 L541.7,206.8 L542.3,206.7 L542.9,206.8 L543.5,207.0 L544.1,207.2 L544.7,207.5 L545.3,207.9 L545.9,208.2 L546.5,208.6 L547.1,208.8 L547.7,209.0 L548.3,209.1 L548.9,209.1 L549.5,209.0 L550.1,208.7 L550.7,208.4 L551.3,208.0 L551.9,207.6 L552.5,207.2 L553.1,206.7 L553.7,206.3 L554.3,206.0 L554.9,205.8 L555.5,205.6 L556.1,205.5 L556.7,205.6 L557.3,205.7 L557.9,205.9 L558.5,206.1 L559.1,206.4 L559.7,206.6 L560.3,206.8 L560.9,207.0 L561.5,207.1 L562.1,207.2 L562.7,207.1 L563.3,206.9 L563.9,206.7 L564.5,206.4 L565.1,206.0 L565.7,205.6 L566.3,205.2 L566.9,204.8 L567.5,204.5 L568.1,204.2 L568.7,204.1 L569.3,204.0 L569.9,204.1 L570.5,204.3 L571.1,204.6 L571.7,205.0 L572.3,205.4 L572.9,205.8 L573.5,206.3 L574.1,206.7 L574.7,207.1 L575.3,207.5 L575.9,207.9 L576.5,208.2 L577.1,208.4 L577.7,208.5 L578.3,208.7 L578.9,208.8 L579.5,209.0 L580.1,209.1 L580.7,209.2 L581.3,209.4 L581.9,209.5 L582.5,209.6 L583.1,209.7 L583.7,209.8 L584.3,209.9 L584.9,210.0 L585.5,210.1 L586.1,210.2 L586.7,210.3 L587.3,210.4 L587.9,210.5 L588.5,210.5 L589.1,210.6 L589.7,210.7 L590.3,210.7 L590.9,210.8 L591.5,210.8 L592.1,210.8 L592.7,210.9 L593.3,210.9 L593.9,210.9 L594.5,210.9 L595.1,210.9 L595.7,210.9 L596.3,210.9 L596.9,210.9 L597.5,210.9 L598.1,210.9 L598.7,210.9 L599.3,210.9 L599.9,210.9 L600.5,210.9 L601.1,210.9 L601.7,210.9 L602.3,210.9 L602.9,210.9 L603.5,210.9 L604.1,210.9 L604.7,210.9 L605.3,210.9 L605.9,210.9 L606.5,211.0 L607.1,211.0 L607.7,211.0 L608.3,211.0 L608.9,211.0 L609.5,211.0 L610.1,211.0 L610.7,211.0 L611.3,211.0 L611.9,211.0 L612.5,211.0 L613.1,211.0 L613.7,211.0 L614.3,211.0 L614.9,211.0 L615.5,211.0 L616.1,211.0 L616.7,211.0 L617.3,211.0 L617.9,211.0 L618.5,211.0 L619.1,211.0 L619.7,211.0 L620.3,211.0 L620.9,211.0 L621.5,211.0 L622.1,211.0 L622.7,211.0 L623.3,211.0 L623.9,211.0 L624.5,211.0 L625.1,211.0 L625.7,211.0 L626.3,211.0 L626.9,211.0 L627.5,211.0 L628.1,211.0 L628.7,211.0 L629.3,211.0 L629.9,211.0 L630.5,211.0 L631.1,211.0 L631.7,211.0 L632.3,211.0 L632.9,211.0 L633.5,211.0 L634.1,211.0 L634.7,211.0 L635.3,211.0 L635.9,211.0 L636.5,211.0 L637.1,211.0 L637.7,211.0 L638.3,211.0 L638.9,211.0 L639.5,211.0 L640.1,211.0 L640.7,211.0 L641.3,211.0 L641.9,211.0 L642.5,211.0 L643.1,211.0 L643.7,211.0 L644.3,211.0 L644.9,211.0 L645.5,211.0 L646.1,211.0 L646.7,211.0 L647.3,211.0 L647.9,211.0 L648.5,211.0 L649.1,210.9 L649.7,210.9 L650.3,210.9 L650.9,210.9 L651.5,210.9 L652.1,210.9 L652.7,210.9 L653.3,210.9 L653.9,210.9 L654.5,210.9 L655.1,210.9 L655.7,210.8 L656.3,210.8 L656.9,210.8 L657.5,210.8 L658.1,210.8 L658.7,210.8 L659.3,210.8 L659.9,210.8 L660.5,210.7 L661.1,210.7 L661.7,210.7 L662.3,210.7 L662.9,210.7 L663.5,210.7 L664.1,210.7 L664.7,210.6 L665.3,210.6 L665.9,210.6 L666.5,210.6 L667.1,210.6 L667.7,210.6 L668.3,210.5 L668.9,210.5 L669.5,210.5 L670.1,210.5 L670.7,210.5 L671.3,210.4 L671.9,210.4 L672.5,210.4 L673.1,210.4 L673.7,210.4 L674.3,210.4 L674.9,210.3 L675.5,210.3 L676.1,210.3 L676.7,210.3 L677.3,210.2 L677.9,210.2 L678.5,210.2 L679.1,210.2 L679.7,210.2 L680.3,210.1 L680.9,210.1 L681.5,210.1 L682.1,210.1 L682.7,210.0 L683.3,210.0 L683.9,210.0 L684.5,210.0 L685.1,210.0 L685.7,209.9 L686.3,209.9 L686.9,209.9 L687.5,209.9 L688.1,209.8 L688.7,209.8 L689.3,209.8 L689.9,209.8 L690.5,209.7 L691.1,209.7 L691.7,209.7 L692.3,209.7 L692.9,209.6 L693.5,209.6"/>
</g>
<path d="M211.0,214.4 C212.4,215.1 216.6,216.9 219.7,218.6 C222.8,220.3 226.0,222.1 229.7,224.8 C233.4,227.5 237.9,231.3 242.0,234.8 C246.1,238.3 250.3,242.4 254.5,245.9 C258.6,249.4 263.5,253.7 266.9,255.9 C270.3,258.1 272.8,258.6 275.0,259.3 C277.2,260.1 278.4,260.0 280.0,260.4 C281.6,260.8 283.2,261.8 284.5,261.9 C285.8,262.0 286.9,260.9 288.0,261.1 C289.1,261.4 289.8,262.7 290.9,263.4 C292.0,264.1 293.6,264.8 294.9,265.3 C296.2,265.8 296.4,266.1 298.9,266.3 C301.4,266.5 307.3,266.0 309.8,266.4 C312.3,266.8 312.6,269.0 313.8,268.8 C315.0,268.6 315.5,266.6 316.8,265.3 C318.1,264.0 320.2,262.2 321.7,260.9 C323.2,259.6 324.0,259.0 325.8,257.6 C327.6,256.2 330.2,254.5 332.5,252.8 C334.8,251.1 337.1,249.0 339.3,247.2 C341.6,245.4 343.9,243.7 346.0,242.1 C348.1,240.5 349.9,238.8 351.6,237.7 C353.3,236.5 354.5,235.9 356.0,235.2 C357.5,234.5 359.8,233.9 360.5,233.6" fill="none" stroke="#4a4a4a" stroke-width="1"/>
<path d="M367.5,253.5 C367.9,253.6 368.7,254.0 370.0,254.2 C371.3,254.4 373.9,255.0 375.4,254.7 C376.8,254.4 377.5,252.2 378.7,252.2 C379.9,252.2 380.5,253.7 382.4,254.7 C384.2,255.7 387.3,257.6 389.8,258.4 C392.3,259.1 395.3,259.0 397.3,259.2 C399.3,259.4 400.4,258.7 401.7,259.4 C403.0,260.1 403.9,263.6 405.3,263.2 C406.7,262.8 408.1,258.7 409.8,256.7 C411.5,254.7 413.8,253.0 415.7,251.3 C417.6,249.6 419.6,248.2 421.5,246.5 C423.4,244.8 425.7,243.1 427.4,241.4 C429.1,239.7 430.0,237.8 431.7,236.2 C433.4,234.6 435.7,233.3 437.6,231.9 C439.6,230.5 441.3,229.5 443.4,227.9 C445.5,226.3 449.1,223.1 450.3,222.2" fill="none" stroke="#2a2a2a" stroke-width="1"/>
<path d="M33.5,5.5 H360.6 M33.5,271.4 H360.6 M33.5,5 V271.9 M360.6,5 V271.9" stroke="#141414" stroke-width="1.15" fill="none"/>
<path d="M367.0,5.5 H694.0 M367.0,271.4 H694.0" stroke="#141414" stroke-width="1.15" fill="none"/>
<path d="M367.0,5 V271.9 M694.0,5 V271.9" stroke="#2a2a2a" stroke-width="1.4" fill="none"/>
<path d="M56.50,5.5V0.00 M56.50,271.4V276.90 M85.50,5.5V2.70 M85.50,271.4V274.20 M114.50,5.5V0.00 M114.50,271.4V276.90 M143.50,5.5V2.70 M143.50,271.4V274.20 M172.50,5.5V0.00 M172.50,271.4V276.90 M200.50,5.5V2.70 M200.50,271.4V274.20 M229.50,5.5V0.00 M229.50,271.4V276.90 M258.50,5.5V2.70 M258.50,271.4V274.20 M287.50,5.5V0.00 M287.50,271.4V276.90 M316.50,5.5V2.70 M316.50,271.4V274.20 M345.50,5.5V0.00 M345.50,271.4V276.90 M378.50,5.5V0.00 M378.50,271.4V276.90 M407.50,5.5V2.70 M407.50,271.4V274.20 M437.50,5.5V0.00 M437.50,271.4V276.90 M466.50,5.5V2.70 M466.50,271.4V274.20 M495.50,5.5V0.00 M495.50,271.4V276.90 M524.50,5.5V2.70 M524.50,271.4V274.20 M554.50,5.5V0.00 M554.50,271.4V276.90 M583.50,5.5V2.70 M583.50,271.4V274.20 M612.50,5.5V0.00 M612.50,271.4V276.90 M641.50,5.5V2.70 M641.50,271.4V274.20 M670.50,5.5V0.00 M670.50,271.4V276.90 M33.5,5.50H27.90 M33.5,23.50H30.60 M33.5,40.50H27.90 M33.5,58.50H30.60 M33.5,76.50H27.90 M33.5,94.50H30.60 M33.5,111.50H27.90 M33.5,129.50H30.60 M33.5,147.50H27.90 M33.5,165.50H30.60 M33.5,182.50H27.90 M33.5,200.50H30.60 M33.5,218.50H27.90 M33.5,235.50H30.60 M33.5,253.50H27.90 M33.5,271.50H30.60 M694.0,16.50H700.00 M694.0,33.50H697.20 M694.0,51.50H700.00 M694.0,68.50H697.20 M694.0,86.50H700.00 M694.0,103.50H697.20 M694.0,121.50H700.00 M694.0,138.50H697.20 M694.0,156.50H700.00 M694.0,173.50H697.20 M694.0,191.50H700.00 M694.0,208.50H697.20 M694.0,226.50H700.00 M694.0,243.50H697.20 M694.0,261.50H700.00" stroke="#141414" stroke-width="1.1" fill="none"/>
<line x1="288.5" y1="212.2" x2="288.5" y2="268.3" stroke="#111" stroke-width="1.2" stroke-dasharray="5.4,2.2"/>
<line x1="339.5" y1="212.2" x2="339.5" y2="268.3" stroke="#111" stroke-width="1.2" stroke-dasharray="5.4,2.2"/>
<line x1="379.0" y1="232.9" x2="379.0" y2="261.0" stroke="#111" stroke-width="1.2" stroke-dasharray="5.4,2.2"/>
<line x1="431.5" y1="227.4" x2="431.5" y2="261.7" stroke="#111" stroke-width="1.2" stroke-dasharray="5.4,2.2"/>
<line x1="292.5" y1="222.5" x2="335.5" y2="222.5" stroke="#111" stroke-width="1.1"/>
<path d="M288.8,222.5 l7,-2.8 v5.6 z M339.2,222.5 l-7,-2.8 v5.6 z" fill="#111"/>
<line x1="383.0" y1="246.0" x2="427.5" y2="246.0" stroke="#111" stroke-width="1.1"/>
<path d="M379.3,246.0 l7,-2.8 v5.6 z M431.2,246.0 l-7,-2.8 v5.6 z" fill="#111"/>
<line x1="217.8" y1="224.9" x2="217.8" y2="243.7" stroke="#555" stroke-width="1"/>
<path d="M217.8,219.9 l-2.6,7 h5.2 z" fill="#111"/>
<line x1="444.4" y1="234.4" x2="444.4" y2="246.0" stroke="#555" stroke-width="1"/>
<path d="M444.4,229.4 l-2.6,7 h5.2 z" fill="#111"/>
<line x1="564.7" y1="29.8" x2="564.7" y2="40.9" stroke="#333" stroke-width="1"/>
<path d="M564.7,45.9 l-2.5,-7 h5 z" fill="#111"/>
<line x1="545.3" y1="83.0" x2="545.3" y2="94.7" stroke="#333" stroke-width="1"/>
<path d="M545.3,99.7 l-2.5,-7 h5 z" fill="#111"/>
<line x1="528.0" y1="131.5" x2="528.0" y2="143.5" stroke="#333" stroke-width="1"/>
<path d="M528.0,148.5 l-2.5,-7 h5 z" fill="#111"/>
<circle cx="159.3" cy="24.2" r="7.0" fill="none" stroke="#222" stroke-width="0.95"/>
<circle cx="168.10000000000002" cy="64.9" r="7.0" fill="none" stroke="#222" stroke-width="0.95"/>
<circle cx="176.60000000000002" cy="99.5" r="7.0" fill="none" stroke="#222" stroke-width="0.95"/>
<circle cx="204.8" cy="134.7" r="7.0" fill="none" stroke="#222" stroke-width="0.95"/>
<circle cx="211.60000000000002" cy="173.1" r="7.0" fill="none" stroke="#222" stroke-width="0.95"/>
<circle cx="508.2" cy="26.5" r="7.0" fill="none" stroke="#222" stroke-width="0.95"/>
<circle cx="483.8" cy="74.9" r="7.0" fill="none" stroke="#222" stroke-width="0.95"/>
<circle cx="475.1" cy="131.8" r="7.0" fill="none" stroke="#222" stroke-width="0.95"/>
<circle cx="460.5" cy="184.9" r="7.0" fill="none" stroke="#222" stroke-width="0.95"/>
<line x1="59.3" y1="249.6" x2="70.8" y2="249.6" stroke="#111" stroke-width="1"/>
<path d="M677.3,252.6 H689.7 M683.5,246.4 V258.9" stroke="#111" stroke-width="1"/>
<text x="321.3" y="28.0" font-size="23" fill="#111">(a)</text>
<text x="379.8" y="26.7" font-size="23" fill="#111">(b)</text>
<text x="56.3" y="291" font-size="15" text-anchor="middle" fill="#111">-2000</text>
<text x="114.1" y="291" font-size="15" text-anchor="middle" fill="#111">-1500</text>
<text x="171.9" y="291" font-size="15" text-anchor="middle" fill="#111">-1000</text>
<text x="229.5" y="291" font-size="15" text-anchor="middle" fill="#111">-500</text>
<text x="287.3" y="291" font-size="15" text-anchor="middle" fill="#111">0</text>
<text x="344.6" y="291" font-size="15" text-anchor="middle" fill="#111">500</text>
<text x="378.7" y="291" font-size="15" text-anchor="middle" fill="#111">0</text>
<text x="437.1" y="291" font-size="15" text-anchor="middle" fill="#111">500</text>
<text x="495.6" y="291" font-size="15" text-anchor="middle" fill="#111">1000</text>
<text x="554.0" y="291" font-size="15" text-anchor="middle" fill="#111">1500</text>
<text x="612.5" y="291" font-size="15" text-anchor="middle" fill="#111">2000</text>
<text x="670.9" y="291" font-size="15" text-anchor="middle" fill="#111">2500</text>
<text x="68.1" y="317.6" font-size="19.5" fill="#111">Laser frequency detuning (MHz)</text>
<text x="406.2" y="318" font-size="19.5" fill="#111">Laser frequency detuning (MHz)</text>
<text transform="translate(14.7,204.5) rotate(-90)" font-size="20.3" fill="#111">dSR (arb. un.)</text>
<text transform="translate(721.4,194.1) rotate(-90)" font-size="20.3" fill="#111">dSR (arb. un.)</text>
<text x="36.5" y="68.4" font-size="15.3" fill="#111">780 G</text>
<text x="37.2" y="108.2" font-size="15.3" fill="#111">720 G</text>
<text x="36.8" y="144" font-size="15.3" fill="#111">690 G</text>
<text x="38.8" y="180.7" font-size="15.3" fill="#111">500 G</text>
<text x="36.7" y="212.5" font-size="15.3" fill="#111">470 G</text>
<text x="691.0" y="66.2" font-size="16.1" text-anchor="end" fill="#111">800 G</text>
<text x="691.0" y="119.7" font-size="16.1" text-anchor="end" fill="#111">680 G</text>
<text x="691.0" y="172.5" font-size="16.1" text-anchor="end" fill="#111">590 G</text>
<text x="691.0" y="228.0" font-size="16.1" text-anchor="end" fill="#111">530 G</text>
<text x="75" y="43.3" font-size="11.5" fill="#111">1’</text>
<text x="86.9" y="43.3" font-size="11.5" fill="#111">2’</text>
<text x="99.8" y="43.3" font-size="11.5" fill="#111">3’</text>
<text x="112.7" y="43.3" font-size="11.5" fill="#111">4’</text>
<text x="87.6" y="80.6" font-size="11.5" fill="#111">1’</text>
<text x="98.3" y="80.6" font-size="11.5" fill="#111">2’</text>
<text x="113.2" y="80.6" font-size="11.5" fill="#111">3’</text>
<text x="126.3" y="80.6" font-size="11.5" fill="#111">4’</text>
<text x="102" y="116.8" font-size="11.5" fill="#111">1’</text>
<text x="112.7" y="116.8" font-size="11.5" fill="#111">2’</text>
<text x="126.8" y="116.8" font-size="11.5" fill="#111">3’</text>
<text x="141.7" y="116.8" font-size="11.5" fill="#111">4’</text>
<text x="149.2" y="151.6" font-size="11.5" fill="#111">1’</text>
<text x="160.3" y="151.6" font-size="11.5" fill="#111">2’</text>
<text x="172.7" y="151.6" font-size="11.5" fill="#111">3’</text>
<text x="185.2" y="151.6" font-size="11.5" fill="#111">4’</text>
<text x="159.1" y="189.7" font-size="11.5" fill="#111">1’</text>
<text x="169.5" y="189.7" font-size="11.5" fill="#111">2’</text>
<text x="181.4" y="189.7" font-size="11.5" fill="#111">3’</text>
<text x="195.1" y="189.7" font-size="11.5" fill="#111">4’</text>
<text x="159.2" y="28.11" font-size="11.5" text-anchor="middle" style="font-style:italic" fill="#111">5</text>
<text x="166.6" y="26.61" font-size="11.5" fill="#111">’</text>
<text x="174.8" y="27.9" font-size="11.5" fill="#111">6’</text>
<text x="188.2" y="25.4" font-size="11.5" fill="#111">7’</text>
<text x="207.1" y="32.9" font-size="11.5" fill="#111">8’</text>
<text x="168.0" y="68.81" font-size="11.5" text-anchor="middle" style="font-style:italic" fill="#111">5</text>
<text x="175.4" y="67.31" font-size="11.5" fill="#111">’</text>
<text x="183.7" y="67.4" font-size="11.5" fill="#111">6’</text>
<text x="195.4" y="66.0" font-size="11.5" fill="#111">7’</text>
<text x="214.8" y="72.4" font-size="11.5" fill="#111">8’</text>
<text x="176.5" y="103.41" font-size="11.5" text-anchor="middle" style="font-style:italic" fill="#111">5</text>
<text x="183.9" y="101.91" font-size="11.5" fill="#111">’</text>
<text x="191.2" y="101.7" font-size="11.5" fill="#111">6’</text>
<text x="204.8" y="99.7" font-size="11.5" fill="#111">7’</text>
<text x="226" y="109.5" font-size="11.5" fill="#111">8’</text>
<text x="204.7" y="138.60999999999999" font-size="11.5" text-anchor="middle" style="font-style:italic" fill="#111">5</text>
<text x="212.1" y="137.10999999999999" font-size="11.5" fill="#111">’</text>
<text x="221.7" y="139.7" font-size="11.5" fill="#111">6’</text>
<text x="234.6" y="137.7" font-size="11.5" fill="#111">7’</text>
<text x="252" y="139.7" font-size="11.5" fill="#111">8’</text>
<text x="211.5" y="177.01" font-size="11.5" text-anchor="middle" style="font-style:italic" fill="#111">5</text>
<text x="218.9" y="175.51" font-size="11.5" fill="#111">’</text>
<text x="227.7" y="177.3" font-size="11.5" fill="#111">6’</text>
<text x="240.8" y="175.3" font-size="11.5" fill="#111">7’</text>
<text x="256.5" y="178.6" font-size="11.5" fill="#111">8’</text>
<text x="507.9" y="30.988" font-size="13.2" text-anchor="middle" fill="#111">8</text>
<text x="519.9" y="30.9" font-size="13.6" fill="#111">7</text>
<text x="530.8" y="28.4" font-size="13.6" fill="#111">6</text>
<text x="543.2" y="27.9" font-size="13.6" fill="#111">5</text>
<text x="585.8" y="39.2" font-size="13.6" fill="#111">4</text>
<text x="603.1" y="38.5" font-size="13.6" fill="#111">3</text>
<text x="620.5" y="39.2" font-size="13.6" fill="#111">2</text>
<text x="636.6" y="38.5" font-size="13.6" fill="#111">1</text>
<text x="559.2" y="24.0" font-size="7" fill="#111">41</text>
<text x="566.6" y="31.0" font-size="15" fill="#111">K</text>
<text x="483.5" y="79.388" font-size="13.2" text-anchor="middle" fill="#111">8</text>
<text x="496.6" y="79.1" font-size="13.6" fill="#111">7</text>
<text x="508.5" y="80.3" font-size="13.6" fill="#111">6</text>
<text x="522.4" y="79.1" font-size="13.6" fill="#111">5</text>
<text x="559.7" y="94.7" font-size="13.6" fill="#111">4</text>
<text x="574.6" y="94.7" font-size="13.6" fill="#111">3</text>
<text x="589" y="94.7" font-size="13.6" fill="#111">2</text>
<text x="603.6" y="94.7" font-size="13.6" fill="#111">1</text>
<text x="540.4" y="75.9" font-size="7" fill="#111">41</text>
<text x="547.3" y="82.9" font-size="15" fill="#111">K</text>
<text x="474.8" y="136.288" font-size="13.2" text-anchor="middle" fill="#111">8</text>
<text x="486.2" y="135.6" font-size="13.6" fill="#111">7</text>
<text x="497.3" y="134.1" font-size="13.6" fill="#111">6</text>
<text x="510.2" y="133.6" font-size="13.6" fill="#111">5</text>
<text x="537" y="146" font-size="13.6" fill="#111">4</text>
<text x="554.7" y="146.7" font-size="13.6" fill="#111">3</text>
<text x="570.1" y="145.5" font-size="13.6" fill="#111">2</text>
<text x="584.5" y="144.3" font-size="13.6" fill="#111">1</text>
<text x="523.0" y="123.5" font-size="7" fill="#111">41</text>
<text x="530.1" y="130.5" font-size="15" fill="#111">K</text>
<text x="460.2" y="189.388" font-size="13.2" text-anchor="middle" fill="#111">8</text>
<text x="473.5" y="186.8" font-size="13.6" fill="#111">7</text>
<text x="486.2" y="186.8" font-size="13.6" fill="#111">6</text>
<text x="499.6" y="186.1" font-size="13.6" fill="#111">5</text>
<text x="526.4" y="195.4" font-size="13.6" fill="#111">4</text>
<text x="542.8" y="196.5" font-size="13.6" fill="#111">3</text>
<text x="557.7" y="195.3" font-size="13.6" fill="#111">2</text>
<text x="572.1" y="194.8" font-size="13.6" fill="#111">1</text>
<text x="134.2" y="257.3" font-size="15.1" fill="#111">Reference (<tspan font-style="italic">B</tspan> = 0)</text>
<text x="440.7" y="259.6" font-size="14.1" fill="#111">Reference (<tspan font-style="italic">B</tspan> = 0)</text>
<text x="293" y="236.7" font-size="11.1" fill="#111">462 MHz</text>
<text x="383.6" y="236.1" font-size="11.1" fill="#111">462 MHz</text>
<text transform="translate(42.0,263.9) scale(1.03,0.82)" font-size="25" font-style="italic" fill="#111" style="stroke-width:0.2px">σ</text>
<text transform="translate(660.6,266.9) scale(1.03,0.82)" font-size="25" font-style="italic" fill="#111" style="stroke-width:0.2px">σ</text>
</svg>
</body></html>
